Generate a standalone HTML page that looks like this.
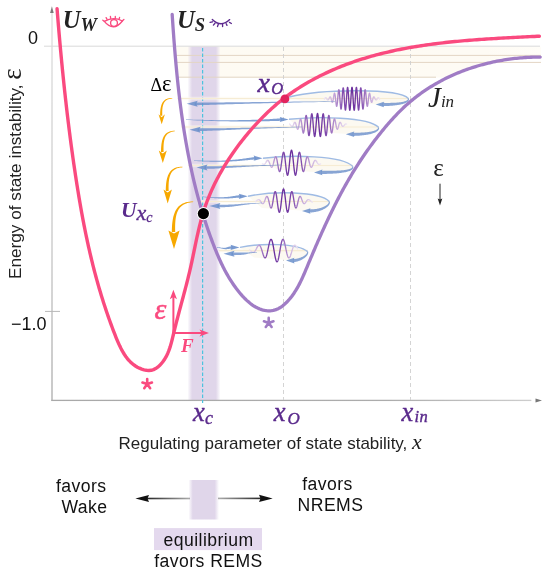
<!DOCTYPE html>
<html><head><meta charset="utf-8"><style>
html,body{margin:0;padding:0;background:#fff;}
body{width:550px;height:577px;position:relative;overflow:hidden;}
svg{position:absolute;left:0;top:0;}
.s{font-family:"Liberation Serif", "DejaVu Serif", serif;}
.a{font-family:"Liberation Sans", Arial, sans-serif;}
</style></head><body>
<svg width="550" height="577" viewBox="0 0 550 577">
<defs>
<linearGradient id="band" x1="0" x2="1" y1="0" y2="0">
<stop offset="0" stop-color="#e0d6ea" stop-opacity="0"/>
<stop offset="0.14" stop-color="#e0d6ea" stop-opacity="1"/>
<stop offset="0.86" stop-color="#e0d6ea" stop-opacity="1"/>
<stop offset="1" stop-color="#e0d6ea" stop-opacity="0"/>
</linearGradient>
<linearGradient id="lg1" gradientUnits="userSpaceOnUse" x1="140" x2="190" y1="0" y2="0">
<stop offset="0" stop-color="#111" stop-opacity="1"/>
<stop offset="1" stop-color="#111" stop-opacity="0.35"/>
</linearGradient>
<linearGradient id="lg2" gradientUnits="userSpaceOnUse" x1="218" x2="268" y1="0" y2="0">
<stop offset="0" stop-color="#111" stop-opacity="0.35"/>
<stop offset="1" stop-color="#111" stop-opacity="1"/>
</linearGradient>
<linearGradient id="cream" gradientUnits="userSpaceOnUse" x1="175" x2="541" y1="0" y2="0">
<stop offset="0" stop-color="#fefbf3"/>
<stop offset="0.85" stop-color="#fefbf4"/>
<stop offset="1" stop-color="#fffdf8"/>
</linearGradient>
<linearGradient id="yax" gradientUnits="userSpaceOnUse" x1="0" y1="12" x2="0" y2="401">
<stop offset="0" stop-color="#dedede"/><stop offset="0.6" stop-color="#c6c6c6"/><stop offset="1" stop-color="#ababab"/>
</linearGradient>
<linearGradient id="xax" gradientUnits="userSpaceOnUse" x1="51" y1="0" x2="531" y2="0">
<stop offset="0" stop-color="#a9a9a9"/><stop offset="0.7" stop-color="#acacac"/><stop offset="1" stop-color="#cdcdcd"/>
</linearGradient>
</defs>
<path d="M174.5,46.7 L541.0,46.7 L541.0,63.1 L540.0,58.1 L538.0,58.1 L536.0,58.1 L534.0,58.1 L532.0,58.2 L530.0,58.3 L528.0,58.4 L526.0,58.5 L524.0,58.6 L522.0,58.8 L520.0,59.0 L518.0,59.1 L516.0,59.3 L514.0,59.6 L512.0,59.8 L510.0,60.1 L508.0,60.3 L506.0,60.7 L504.0,61.0 L502.0,61.3 L500.0,61.7 L498.0,62.0 L496.0,62.4 L494.0,62.8 L492.0,63.3 L490.0,63.7 L488.0,64.2 L486.0,64.7 L484.0,65.2 L482.0,65.7 L480.0,66.3 L478.0,66.9 L476.0,67.4 L474.0,68.1 L472.0,68.7 L470.0,69.4 L468.0,70.1 L466.0,70.8 L464.0,71.5 L462.0,72.3 L460.0,73.1 L458.0,73.9 L456.0,74.7 L454.0,75.6 L452.0,76.5 L450.0,77.4 L448.0,77.5 L446.0,77.5 L444.0,77.5 L442.0,77.5 L440.0,77.5 L438.0,77.5 L436.0,77.5 L434.0,77.5 L432.0,77.5 L430.0,77.5 L428.0,77.5 L426.0,77.5 L424.0,77.5 L422.0,77.5 L420.0,77.5 L418.0,77.5 L416.0,77.5 L414.0,77.5 L412.0,77.5 L410.0,77.5 L408.0,77.5 L406.0,77.5 L404.0,77.5 L402.0,77.5 L177.3,77.5Z" fill="url(#cream)"/>
<rect x="187.5" y="46.5" width="33" height="353.5" fill="url(#band)"/>
<line x1="175.2" y1="55.4" x2="541" y2="55.4" stroke="#e3d5c4" stroke-width="1"/>
<line x1="175.8" y1="62.4" x2="541" y2="62.4" stroke="#e3d5c4" stroke-width="1"/>
<line x1="177.2" y1="77.2" x2="436" y2="77.2" stroke="#e3d5c4" stroke-width="1"/>
<line x1="44" y1="46.2" x2="540" y2="46.2" stroke="#d9d9d9" stroke-width="1"/>
<rect x="51.35" y="12" width="1.3" height="389" fill="url(#yax)"/>
<path d="M51.9,6.3 L53.7,13 L50.1,13Z" fill="#7a7a7a"/>
<rect x="51.35" y="399.75" width="480" height="1.3" fill="url(#xax)"/>
<path d="M542,400.4 L535.5,398.4 L535.5,402.4Z" fill="#777"/>
<line x1="45" y1="311.4" x2="60" y2="311.4" stroke="#b8b8b8" stroke-width="1"/>
<line x1="202.6" y1="48" x2="202.6" y2="403" stroke="#4cc3de" stroke-width="1.2" stroke-dasharray="3.4 2.1"/>
<line x1="283.5" y1="47" x2="283.5" y2="400" stroke="#cfcfcf" stroke-width="0.9" stroke-dasharray="4 3"/>
<line x1="410.5" y1="47" x2="410.5" y2="400" stroke="#cfcfcf" stroke-width="0.9" stroke-dasharray="4 3"/>
<path d="M289,97 C324.8,88.5 398.4,88.5 408.4,98.4 C409.4,102.4 400.4,104.5 382.6,104.5 L303,101.5Z" fill="#fcf9f1"/>
<path d="M289,119.3 C315.9,116.5 368.5,116.5 378.5,127.3 C379.5,131.3 370.5,134.3 352.8,134.3 L303,131.3Z" fill="#fcf9f1"/>
<path d="M263,158.2 C289.9,155 342.7,155 352.7,166.4 C353.7,170.4 344.7,172.4 321.0,172.4 L277,169.4Z" fill="#fcf9f1"/>
<path d="M248,196.3 C272.4,191 319.3,191 329.3,201.5 C330.3,205.5 321.3,211 309.0,211 L262,208Z" fill="#fcf9f1"/>
<path d="M240,247.4 C260.3,243 297.6,243 307.6,251.6 C308.6,255.6 299.6,260.6 293.0,260.6 L254,257.6Z" fill="#fcf9f1"/>
<line x1="177.6" y1="98.5" x2="408.4" y2="98.5" stroke="#f0e0bc" stroke-width="1.2"/>
<line x1="177.6" y1="98.5" x2="408.4" y2="98.5" stroke="#fdf8ec" stroke-width="3.5" opacity="0.5"/>
<line x1="181.5" y1="127" x2="378.5" y2="127" stroke="#f0e0bc" stroke-width="1.2"/>
<line x1="181.5" y1="127" x2="378.5" y2="127" stroke="#fdf8ec" stroke-width="3.5" opacity="0.5"/>
<line x1="188.5" y1="165.5" x2="352.7" y2="165.5" stroke="#f0e0bc" stroke-width="1.2"/>
<line x1="188.5" y1="165.5" x2="352.7" y2="165.5" stroke="#fdf8ec" stroke-width="3.5" opacity="0.5"/>
<line x1="197.2" y1="201.5" x2="329.3" y2="201.5" stroke="#f0e0bc" stroke-width="1.2"/>
<line x1="197.2" y1="201.5" x2="329.3" y2="201.5" stroke="#fdf8ec" stroke-width="3.5" opacity="0.5"/>
<line x1="219.0" y1="250.6" x2="307.6" y2="250.6" stroke="#f0e0bc" stroke-width="1.2"/>
<line x1="219.0" y1="250.6" x2="307.6" y2="250.6" stroke="#fdf8ec" stroke-width="3.5" opacity="0.5"/>
<path d="M289,97 C324.8,88.5 398.4,88.5 408.4,98.4" fill="none" stroke="#9fbbe4" stroke-width="1.4"/>
<linearGradient id="wg0" gradientUnits="userSpaceOnUse" x1="324" x2="380" y1="0" y2="0"><stop offset="0" stop-color="#efe6f4"/><stop offset="0.18" stop-color="#c4a6da"/><stop offset="0.33" stop-color="#8450b0"/><stop offset="0.5" stop-color="#6a2e9c"/><stop offset="0.67" stop-color="#8450b0"/><stop offset="0.82" stop-color="#c4a6da"/><stop offset="1" stop-color="#efe6f4"/></linearGradient>
<path d="M324.00,99.55 L324.11,99.41 L324.22,99.24 L324.34,99.07 L324.45,98.89 L324.56,98.70 L324.67,98.52 L324.78,98.35 L324.90,98.18 L325.01,98.04 L325.12,97.91 L325.23,97.81 L325.34,97.73 L325.46,97.67 L325.57,97.65 L325.68,97.66 L325.79,97.69 L325.90,97.76 L326.02,97.85 L326.13,97.96 L326.24,98.10 L326.35,98.25 L326.46,98.42 L326.58,98.60 L326.69,98.78 L326.80,98.96 L326.91,99.14 L327.02,99.31 L327.14,99.47 L327.25,99.61 L327.36,99.73 L327.47,99.83 L327.58,99.90 L327.70,99.94 L327.81,99.95 L327.92,99.93 L328.03,99.89 L328.14,99.81 L328.26,99.71 L328.37,99.59 L328.48,99.45 L328.59,99.29 L328.70,99.13 L328.82,98.95 L328.93,98.75 L329.04,98.53 L329.15,98.30 L329.26,98.06 L329.38,97.83 L329.49,97.61 L329.60,97.40 L329.71,97.21 L329.82,97.06 L329.94,96.94 L330.05,96.87 L330.16,96.85 L330.27,96.88 L330.38,96.96 L330.50,97.11 L330.61,97.31 L330.72,97.57 L330.83,97.88 L330.94,98.24 L331.06,98.64 L331.17,99.06 L331.28,99.51 L331.39,99.97 L331.50,100.42 L331.62,100.85 L331.73,101.26 L331.84,101.62 L331.95,101.92 L332.06,102.16 L332.18,102.31 L332.29,102.38 L332.40,102.36 L332.51,102.23 L332.62,102.01 L332.74,101.68 L332.85,101.26 L332.96,100.76 L333.07,100.17 L333.18,99.52 L333.30,98.83 L333.41,98.09 L333.52,97.35 L333.63,96.61 L333.74,95.89 L333.86,95.23 L333.97,94.63 L334.08,94.12 L334.19,93.72 L334.30,93.43 L334.42,93.28 L334.53,93.27 L334.64,93.40 L334.75,93.69 L334.86,94.12 L334.98,94.69 L335.09,95.39 L335.20,96.21 L335.31,97.12 L335.42,98.10 L335.54,99.14 L335.65,100.19 L335.76,101.25 L335.87,102.27 L335.98,103.22 L336.10,104.09 L336.21,104.85 L336.32,105.46 L336.43,105.92 L336.54,106.20 L336.66,106.29 L336.77,106.19 L336.88,105.89 L336.99,105.40 L337.10,104.73 L337.22,103.88 L337.33,102.88 L337.44,101.76 L337.55,100.53 L337.66,99.23 L337.78,97.89 L337.89,96.55 L338.00,95.24 L338.11,94.00 L338.22,92.86 L338.34,91.86 L338.45,91.02 L338.56,90.37 L338.67,89.92 L338.78,89.70 L338.90,89.71 L339.01,89.96 L339.12,90.44 L339.23,91.15 L339.34,92.06 L339.46,93.17 L339.57,94.43 L339.68,95.82 L339.79,97.31 L339.90,98.86 L340.02,100.42 L340.13,101.96 L340.24,103.43 L340.35,104.81 L340.46,106.04 L340.58,107.10 L340.69,107.95 L340.80,108.58 L340.91,108.96 L341.02,109.08 L341.14,108.94 L341.25,108.54 L341.36,107.88 L341.47,106.98 L341.58,105.86 L341.70,104.55 L341.81,103.09 L341.92,101.50 L342.03,99.83 L342.14,98.13 L342.26,96.43 L342.37,94.78 L342.48,93.22 L342.59,91.80 L342.70,90.55 L342.82,89.51 L342.93,88.70 L343.04,88.14 L343.15,87.85 L343.26,87.85 L343.38,88.12 L343.49,88.68 L343.60,89.49 L343.71,90.54 L343.82,91.81 L343.94,93.27 L344.05,94.87 L344.16,96.58 L344.27,98.35 L344.38,100.14 L344.50,101.90 L344.61,103.59 L344.72,105.15 L344.83,106.56 L344.94,107.77 L345.06,108.76 L345.17,109.49 L345.28,109.96 L345.39,110.13 L345.50,110.02 L345.62,109.62 L345.73,108.94 L345.84,108.00 L345.95,106.83 L346.06,105.44 L346.18,103.89 L346.29,102.20 L346.40,100.42 L346.51,98.60 L346.62,96.79 L346.74,95.02 L346.85,93.35 L346.96,91.81 L347.07,90.45 L347.18,89.31 L347.30,88.41 L347.41,87.77 L347.52,87.41 L347.63,87.34 L347.74,87.57 L347.86,88.08 L347.97,88.87 L348.08,89.91 L348.19,91.18 L348.30,92.65 L348.42,94.27 L348.53,96.01 L348.64,97.82 L348.75,99.65 L348.86,101.47 L348.98,103.21 L349.09,104.85 L349.20,106.33 L349.31,107.62 L349.42,108.68 L349.54,109.49 L349.65,110.03 L349.76,110.28 L349.87,110.24 L349.98,109.90 L350.10,109.29 L350.21,108.40 L350.32,107.27 L350.43,105.93 L350.54,104.40 L350.66,102.73 L350.77,100.95 L350.88,99.13 L350.99,97.29 L351.10,95.50 L351.22,93.79 L351.33,92.20 L351.44,90.79 L351.55,89.57 L351.66,88.60 L351.78,87.88 L351.89,87.45 L352.00,87.30 L352.11,87.45 L352.22,87.88 L352.34,88.60 L352.45,89.57 L352.56,90.79 L352.67,92.20 L352.78,93.79 L352.90,95.50 L353.01,97.29 L353.12,99.13 L353.23,100.95 L353.34,102.73 L353.46,104.40 L353.57,105.93 L353.68,107.27 L353.79,108.40 L353.90,109.29 L354.02,109.90 L354.13,110.24 L354.24,110.28 L354.35,110.03 L354.46,109.49 L354.58,108.68 L354.69,107.62 L354.80,106.33 L354.91,104.85 L355.02,103.21 L355.14,101.47 L355.25,99.65 L355.36,97.82 L355.47,96.01 L355.58,94.27 L355.70,92.65 L355.81,91.18 L355.92,89.91 L356.03,88.87 L356.14,88.08 L356.26,87.57 L356.37,87.34 L356.48,87.41 L356.59,87.77 L356.70,88.41 L356.82,89.31 L356.93,90.45 L357.04,91.81 L357.15,93.35 L357.26,95.02 L357.38,96.79 L357.49,98.60 L357.60,100.42 L357.71,102.20 L357.82,103.89 L357.94,105.44 L358.05,106.83 L358.16,108.00 L358.27,108.94 L358.38,109.62 L358.50,110.02 L358.61,110.13 L358.72,109.96 L358.83,109.49 L358.94,108.76 L359.06,107.77 L359.17,106.56 L359.28,105.15 L359.39,103.59 L359.50,101.90 L359.62,100.14 L359.73,98.35 L359.84,96.58 L359.95,94.87 L360.06,93.27 L360.18,91.81 L360.29,90.54 L360.40,89.49 L360.51,88.68 L360.62,88.12 L360.74,87.85 L360.85,87.85 L360.96,88.14 L361.07,88.70 L361.18,89.51 L361.30,90.55 L361.41,91.80 L361.52,93.22 L361.63,94.78 L361.74,96.43 L361.86,98.13 L361.97,99.83 L362.08,101.50 L362.19,103.09 L362.30,104.55 L362.42,105.86 L362.53,106.98 L362.64,107.88 L362.75,108.54 L362.86,108.94 L362.98,109.08 L363.09,108.96 L363.20,108.58 L363.31,107.95 L363.42,107.10 L363.54,106.04 L363.65,104.81 L363.76,103.43 L363.87,101.96 L363.98,100.42 L364.10,98.86 L364.21,97.31 L364.32,95.82 L364.43,94.43 L364.54,93.17 L364.66,92.06 L364.77,91.15 L364.88,90.44 L364.99,89.96 L365.10,89.71 L365.22,89.70 L365.33,89.92 L365.44,90.37 L365.55,91.02 L365.66,91.86 L365.78,92.86 L365.89,94.00 L366.00,95.24 L366.11,96.55 L366.22,97.89 L366.34,99.23 L366.45,100.53 L366.56,101.76 L366.67,102.88 L366.78,103.88 L366.90,104.73 L367.01,105.40 L367.12,105.89 L367.23,106.19 L367.34,106.29 L367.46,106.20 L367.57,105.92 L367.68,105.46 L367.79,104.85 L367.90,104.09 L368.02,103.22 L368.13,102.27 L368.24,101.25 L368.35,100.19 L368.46,99.14 L368.58,98.10 L368.69,97.12 L368.80,96.21 L368.91,95.39 L369.02,94.69 L369.14,94.12 L369.25,93.69 L369.36,93.40 L369.47,93.27 L369.58,93.28 L369.70,93.43 L369.81,93.72 L369.92,94.12 L370.03,94.63 L370.14,95.23 L370.26,95.89 L370.37,96.61 L370.48,97.35 L370.59,98.09 L370.70,98.83 L370.82,99.52 L370.93,100.17 L371.04,100.76 L371.15,101.26 L371.26,101.68 L371.38,102.01 L371.49,102.23 L371.60,102.36 L371.71,102.38 L371.82,102.31 L371.94,102.16 L372.05,101.92 L372.16,101.62 L372.27,101.26 L372.38,100.85 L372.50,100.42 L372.61,99.97 L372.72,99.51 L372.83,99.06 L372.94,98.64 L373.06,98.24 L373.17,97.88 L373.28,97.57 L373.39,97.31 L373.50,97.11 L373.62,96.96 L373.73,96.88 L373.84,96.85 L373.95,96.87 L374.06,96.94 L374.18,97.06 L374.29,97.21 L374.40,97.40 L374.51,97.61 L374.62,97.83 L374.74,98.06 L374.85,98.30 L374.96,98.53 L375.07,98.75 L375.18,98.95 L375.30,99.13 L375.41,99.29 L375.52,99.45 L375.63,99.59 L375.74,99.71 L375.86,99.81 L375.97,99.89 L376.08,99.93 L376.19,99.95 L376.30,99.94 L376.42,99.90 L376.53,99.83 L376.64,99.73 L376.75,99.61 L376.86,99.47 L376.98,99.31 L377.09,99.14 L377.20,98.96 L377.31,98.78 L377.42,98.60 L377.54,98.42 L377.65,98.25 L377.76,98.10 L377.87,97.96 L377.98,97.85 L378.10,97.76 L378.21,97.69 L378.32,97.66 L378.43,97.65 L378.54,97.67 L378.66,97.73 L378.77,97.81 L378.88,97.91 L378.99,98.04 L379.10,98.18 L379.22,98.35 L379.33,98.52 L379.44,98.70 L379.55,98.89 L379.66,99.07 L379.78,99.24 L379.89,99.41 L380.00,99.55" fill="none" stroke="url(#wg0)" stroke-width="1.35" stroke-linejoin="round"/>
<path d="M407.91,98.49 L407.93,98.76 L407.92,98.99 L407.88,99.19 L407.81,99.38 L407.72,99.56 L407.60,99.74 L407.45,99.91 L407.27,100.08 L407.06,100.25 L406.81,100.42 L406.53,100.59 L406.21,100.75 L405.85,100.91 L405.45,101.07 L405.02,101.22 L404.55,101.37 L404.04,101.51 L403.50,101.65 L402.92,101.78 L402.30,101.90 L401.65,102.02 L400.96,102.13 L400.24,102.23 L399.48,102.33 L398.68,102.42 L397.85,102.50 L396.98,102.57 L396.08,102.64 L395.15,102.70 L394.18,102.75 L393.17,102.80 L392.13,102.83 L391.06,102.86 L389.95,102.88 L388.81,102.90 L387.63,102.90 L386.43,102.90 L385.18,102.89 L383.91,102.87 L382.60,102.85 L382.60,106.15 L383.93,106.12 L385.22,106.08 L386.49,106.03 L387.71,105.97 L388.91,105.91 L390.07,105.84 L391.20,105.76 L392.30,105.67 L393.36,105.57 L394.39,105.47 L395.38,105.36 L396.34,105.24 L397.27,105.11 L398.16,104.97 L399.02,104.83 L399.84,104.68 L400.63,104.52 L401.39,104.35 L402.11,104.18 L402.80,104.00 L403.45,103.80 L404.07,103.60 L404.65,103.40 L405.20,103.18 L405.72,102.95 L406.20,102.72 L406.64,102.47 L407.06,102.21 L407.43,101.94 L407.78,101.66 L408.08,101.37 L408.35,101.06 L408.58,100.74 L408.76,100.41 L408.90,100.06 L408.99,99.70 L409.04,99.34 L409.03,98.99 L408.98,98.63 L408.89,98.31Z" fill="#6a8fcb" opacity="0.8"/>
<path d="M375.6,104.5 L384.1,101.7 L382.9,104.5 L384.1,107.3Z" fill="#6a8fcb" opacity="0.85"/>
<path d="M335.00,101.25 L329.49,101.29 L324.10,101.33 L318.81,101.38 L313.64,101.42 L308.58,101.47 L303.62,101.52 L298.78,101.56 L294.04,101.61 L289.41,101.66 L284.88,101.71 L280.46,101.76 L276.14,101.81 L271.93,101.86 L267.82,101.90 L263.81,101.95 L259.90,102.00 L256.10,102.04 L252.39,102.09 L248.79,102.13 L245.28,102.17 L241.87,102.21 L238.55,102.25 L235.34,102.28 L232.22,102.32 L229.19,102.35 L226.26,102.37 L223.42,102.40 L220.67,102.42 L218.02,102.44 L215.46,102.46 L212.98,102.47 L210.60,102.48 L208.31,102.48 L206.11,102.49 L203.99,102.48 L201.96,102.48 L200.02,102.46 L198.16,102.45 L196.39,102.43 L194.70,102.40 L194.70,105.20 L196.40,105.17 L198.17,105.13 L200.04,105.09 L201.98,105.05 L204.02,105.00 L206.14,104.94 L208.34,104.88 L210.64,104.82 L213.02,104.75 L215.49,104.68 L218.06,104.61 L220.71,104.53 L223.46,104.45 L226.30,104.37 L229.23,104.28 L232.25,104.20 L235.37,104.10 L238.59,104.01 L241.90,103.92 L245.31,103.82 L248.82,103.72 L252.42,103.62 L256.13,103.52 L259.93,103.42 L263.84,103.31 L267.84,103.21 L271.95,103.10 L276.16,103.00 L280.48,102.89 L284.90,102.78 L289.42,102.68 L294.06,102.57 L298.79,102.47 L303.64,102.36 L308.59,102.26 L313.65,102.15 L318.82,102.05 L324.11,101.95 L329.50,101.85 L335.00,101.75Z" fill="#6a8fcb" opacity="0.8"/>
<path d="M186.7,103.8 L197.7,100.8 L196.2,103.8 L197.7,106.8Z" fill="#6a8fcb" opacity="0.85"/>
<path d="M289,119.3 C315.9,116.5 368.5,116.5 378.5,127.3" fill="none" stroke="#9fbbe4" stroke-width="1.4"/>
<linearGradient id="wg1" gradientUnits="userSpaceOnUse" x1="289" x2="347" y1="0" y2="0"><stop offset="0" stop-color="#efe6f4"/><stop offset="0.18" stop-color="#c4a6da"/><stop offset="0.33" stop-color="#8450b0"/><stop offset="0.5" stop-color="#6a2e9c"/><stop offset="0.67" stop-color="#8450b0"/><stop offset="0.82" stop-color="#c4a6da"/><stop offset="1" stop-color="#efe6f4"/></linearGradient>
<path d="M289.00,123.85 L289.12,123.86 L289.23,123.89 L289.35,123.93 L289.46,124.00 L289.58,124.08 L289.70,124.17 L289.81,124.28 L289.93,124.40 L290.04,124.53 L290.16,124.67 L290.28,124.81 L290.39,124.96 L290.51,125.11 L290.62,125.25 L290.74,125.39 L290.86,125.53 L290.97,125.65 L291.09,125.77 L291.20,125.90 L291.32,126.02 L291.44,126.13 L291.55,126.23 L291.67,126.31 L291.78,126.37 L291.90,126.41 L292.02,126.43 L292.13,126.42 L292.25,126.39 L292.36,126.33 L292.48,126.25 L292.60,126.14 L292.71,126.00 L292.83,125.83 L292.94,125.64 L293.06,125.44 L293.18,125.21 L293.29,124.96 L293.41,124.71 L293.52,124.44 L293.64,124.18 L293.76,123.91 L293.87,123.65 L293.99,123.40 L294.10,123.16 L294.22,122.95 L294.34,122.76 L294.45,122.60 L294.57,122.48 L294.68,122.39 L294.80,122.35 L294.92,122.35 L295.03,122.40 L295.15,122.49 L295.26,122.63 L295.38,122.82 L295.50,123.06 L295.61,123.34 L295.73,123.66 L295.84,124.02 L295.96,124.40 L296.08,124.82 L296.19,125.25 L296.31,125.70 L296.42,126.15 L296.54,126.61 L296.66,127.05 L296.77,127.47 L296.89,127.87 L297.00,128.23 L297.12,128.55 L297.24,128.82 L297.35,129.04 L297.47,129.19 L297.58,129.28 L297.70,129.30 L297.82,129.24 L297.93,129.11 L298.05,128.91 L298.16,128.63 L298.28,128.28 L298.40,127.87 L298.51,127.39 L298.63,126.85 L298.74,126.27 L298.86,125.65 L298.98,124.99 L299.09,124.32 L299.21,123.64 L299.32,122.96 L299.44,122.30 L299.56,121.66 L299.67,121.06 L299.79,120.52 L299.90,120.03 L300.02,119.61 L300.14,119.27 L300.25,119.03 L300.37,118.87 L300.48,118.81 L300.60,118.86 L300.72,119.01 L300.83,119.27 L300.95,119.63 L301.06,120.09 L301.18,120.64 L301.30,121.28 L301.41,122.00 L301.53,122.78 L301.64,123.62 L301.76,124.49 L301.88,125.40 L301.99,126.32 L302.11,127.24 L302.22,128.14 L302.34,129.00 L302.46,129.81 L302.57,130.57 L302.69,131.24 L302.80,131.82 L302.92,132.30 L303.04,132.66 L303.15,132.90 L303.27,133.02 L303.38,133.00 L303.50,132.85 L303.62,132.57 L303.73,132.15 L303.85,131.61 L303.96,130.95 L304.08,130.18 L304.20,129.32 L304.31,128.36 L304.43,127.34 L304.54,126.26 L304.66,125.15 L304.78,124.01 L304.89,122.88 L305.01,121.77 L305.12,120.69 L305.24,119.67 L305.36,118.73 L305.47,117.88 L305.59,117.13 L305.70,116.51 L305.82,116.02 L305.94,115.68 L306.05,115.48 L306.17,115.44 L306.28,115.56 L306.40,115.83 L306.52,116.26 L306.63,116.84 L306.75,117.56 L306.86,118.41 L306.98,119.38 L307.10,120.45 L307.21,121.61 L307.33,122.83 L307.44,124.10 L307.56,125.39 L307.68,126.69 L307.79,127.98 L307.91,129.22 L308.02,130.40 L308.14,131.51 L308.26,132.52 L308.37,133.41 L308.49,134.16 L308.60,134.77 L308.72,135.23 L308.84,135.52 L308.95,135.64 L309.07,135.58 L309.18,135.35 L309.30,134.95 L309.42,134.38 L309.53,133.65 L309.65,132.78 L309.76,131.77 L309.88,130.65 L310.00,129.43 L310.11,128.13 L310.23,126.77 L310.34,125.38 L310.46,123.97 L310.58,122.58 L310.69,121.22 L310.81,119.91 L310.92,118.69 L311.04,117.56 L311.16,116.55 L311.27,115.68 L311.39,114.96 L311.50,114.40 L311.62,114.01 L311.74,113.80 L311.85,113.77 L311.97,113.93 L312.08,114.27 L312.20,114.79 L312.32,115.48 L312.43,116.32 L312.55,117.31 L312.66,118.43 L312.78,119.65 L312.90,120.97 L313.01,122.35 L313.13,123.79 L313.24,125.24 L313.36,126.69 L313.48,128.12 L313.59,129.49 L313.71,130.80 L313.82,132.01 L313.94,133.11 L314.06,134.08 L314.17,134.89 L314.29,135.55 L314.40,136.04 L314.52,136.34 L314.64,136.46 L314.75,136.40 L314.87,136.14 L314.98,135.71 L315.10,135.10 L315.22,134.32 L315.33,133.39 L315.45,132.32 L315.56,131.14 L315.68,129.85 L315.80,128.48 L315.91,127.05 L316.03,125.60 L316.14,124.13 L316.26,122.67 L316.38,121.25 L316.49,119.90 L316.61,118.63 L316.72,117.46 L316.84,116.41 L316.96,115.51 L317.07,114.76 L317.19,114.17 L317.30,113.77 L317.42,113.54 L317.54,113.51 L317.65,113.66 L317.77,114.00 L317.88,114.52 L318.00,115.20 L318.12,116.05 L318.23,117.05 L318.35,118.17 L318.46,119.41 L318.58,120.73 L318.70,122.13 L318.81,123.57 L318.93,125.04 L319.04,126.50 L319.16,127.94 L319.28,129.34 L319.39,130.66 L319.51,131.89 L319.62,133.00 L319.74,133.98 L319.86,134.82 L319.97,135.50 L320.09,136.00 L320.20,136.32 L320.32,136.46 L320.44,136.41 L320.55,136.18 L320.67,135.76 L320.78,135.16 L320.90,134.40 L321.02,133.49 L321.13,132.44 L321.25,131.27 L321.36,130.00 L321.48,128.65 L321.60,127.24 L321.71,125.79 L321.83,124.34 L321.94,122.89 L322.06,121.49 L322.18,120.14 L322.29,118.88 L322.41,117.72 L322.52,116.68 L322.64,115.78 L322.76,115.03 L322.87,114.45 L322.99,114.04 L323.10,113.81 L323.22,113.77 L323.34,113.91 L323.45,114.23 L323.57,114.72 L323.68,115.39 L323.80,116.20 L323.92,117.16 L324.03,118.25 L324.15,119.44 L324.26,120.71 L324.38,122.05 L324.50,123.44 L324.61,124.84 L324.73,126.24 L324.84,127.62 L324.96,128.94 L325.08,130.19 L325.19,131.36 L325.31,132.41 L325.42,133.33 L325.54,134.12 L325.66,134.75 L325.77,135.22 L325.89,135.51 L326.00,135.64 L326.12,135.58 L326.24,135.36 L326.35,134.97 L326.47,134.41 L326.58,133.71 L326.70,132.87 L326.82,131.90 L326.93,130.83 L327.05,129.68 L327.16,128.45 L327.28,127.18 L327.40,125.89 L327.51,124.59 L327.63,123.30 L327.74,122.06 L327.86,120.88 L327.98,119.77 L328.09,118.77 L328.21,117.87 L328.32,117.10 L328.44,116.46 L328.56,115.98 L328.67,115.64 L328.79,115.47 L328.90,115.45 L329.02,115.58 L329.14,115.87 L329.25,116.31 L329.37,116.88 L329.48,117.58 L329.60,118.39 L329.72,119.30 L329.83,120.30 L329.95,121.35 L330.06,122.45 L330.18,123.58 L330.30,124.72 L330.41,125.84 L330.53,126.94 L330.64,127.98 L330.76,128.96 L330.88,129.87 L330.99,130.67 L331.11,131.38 L331.22,131.96 L331.34,132.43 L331.46,132.76 L331.57,132.96 L331.69,133.03 L331.80,132.96 L331.92,132.77 L332.04,132.45 L332.15,132.01 L332.27,131.47 L332.38,130.83 L332.50,130.11 L332.62,129.32 L332.73,128.47 L332.85,127.58 L332.96,126.67 L333.08,125.75 L333.20,124.84 L333.31,123.94 L333.43,123.09 L333.54,122.28 L333.66,121.54 L333.78,120.87 L333.89,120.29 L334.01,119.79 L334.12,119.40 L334.24,119.10 L334.36,118.91 L334.47,118.82 L334.59,118.84 L334.70,118.95 L334.82,119.17 L334.94,119.47 L335.05,119.86 L335.17,120.32 L335.28,120.85 L335.40,121.43 L335.52,122.05 L335.63,122.71 L335.75,123.38 L335.86,124.06 L335.98,124.74 L336.10,125.40 L336.21,126.04 L336.33,126.64 L336.44,127.19 L336.56,127.69 L336.68,128.13 L336.79,128.51 L336.91,128.81 L337.02,129.05 L337.14,129.20 L337.26,129.29 L337.37,129.30 L337.49,129.23 L337.60,129.10 L337.72,128.91 L337.84,128.66 L337.95,128.36 L338.07,128.01 L338.18,127.63 L338.30,127.21 L338.42,126.78 L338.53,126.33 L338.65,125.87 L338.76,125.42 L338.88,124.98 L339.00,124.56 L339.11,124.16 L339.23,123.79 L339.34,123.46 L339.46,123.16 L339.58,122.91 L339.69,122.70 L339.81,122.54 L339.92,122.43 L340.04,122.36 L340.16,122.35 L340.27,122.37 L340.39,122.44 L340.50,122.55 L340.62,122.70 L340.74,122.87 L340.85,123.08 L340.97,123.31 L341.08,123.55 L341.20,123.81 L341.32,124.07 L341.43,124.34 L341.55,124.61 L341.66,124.87 L341.78,125.12 L341.90,125.35 L342.01,125.57 L342.13,125.76 L342.24,125.94 L342.36,126.09 L342.48,126.21 L342.59,126.30 L342.71,126.37 L342.82,126.41 L342.94,126.43 L343.06,126.42 L343.17,126.39 L343.29,126.33 L343.40,126.26 L343.52,126.17 L343.64,126.06 L343.75,125.94 L343.87,125.82 L343.98,125.70 L344.10,125.57 L344.22,125.44 L344.33,125.30 L344.45,125.16 L344.56,125.01 L344.68,124.87 L344.80,124.72 L344.91,124.58 L345.03,124.45 L345.14,124.33 L345.26,124.21 L345.38,124.11 L345.49,124.03 L345.61,123.96 L345.72,123.90 L345.84,123.87 L345.96,123.85 L346.07,123.85 L346.19,123.87 L346.30,123.91 L346.42,123.97 L346.54,124.04 L346.65,124.13 L346.77,124.24 L346.88,124.35 L347.00,124.48" fill="none" stroke="url(#wg1)" stroke-width="1.35" stroke-linejoin="round"/>
<path d="M378.01,127.39 L378.03,127.66 L378.02,127.89 L377.98,128.11 L377.91,128.31 L377.81,128.51 L377.69,128.71 L377.53,128.90 L377.35,129.10 L377.13,129.29 L376.88,129.48 L376.59,129.68 L376.27,129.87 L375.91,130.06 L375.51,130.25 L375.08,130.43 L374.61,130.61 L374.10,130.78 L373.56,130.95 L372.98,131.11 L372.36,131.27 L371.71,131.42 L371.03,131.56 L370.31,131.69 L369.55,131.82 L368.76,131.94 L367.93,132.05 L367.07,132.16 L366.18,132.25 L365.25,132.34 L364.28,132.41 L363.29,132.48 L362.25,132.54 L361.19,132.59 L360.09,132.63 L358.96,132.66 L357.79,132.68 L356.59,132.69 L355.36,132.69 L354.10,132.67 L352.79,132.65 L352.81,135.95 L354.13,135.92 L355.42,135.87 L356.68,135.81 L357.90,135.75 L359.10,135.67 L360.26,135.58 L361.38,135.48 L362.48,135.37 L363.54,135.25 L364.56,135.12 L365.56,134.99 L366.52,134.84 L367.44,134.68 L368.33,134.51 L369.19,134.34 L370.01,134.16 L370.80,133.96 L371.55,133.76 L372.27,133.55 L372.96,133.33 L373.61,133.11 L374.23,132.87 L374.81,132.63 L375.36,132.38 L375.87,132.12 L376.35,131.85 L376.79,131.57 L377.20,131.28 L377.57,130.98 L377.91,130.68 L378.21,130.36 L378.47,130.03 L378.69,129.69 L378.87,129.34 L379.01,128.99 L379.10,128.62 L379.14,128.26 L379.13,127.89 L379.08,127.53 L378.99,127.21Z" fill="#6a8fcb" opacity="0.8"/>
<path d="M345.8,134.3 L354.3,131.5 L353.1,134.3 L354.3,137.1Z" fill="#6a8fcb" opacity="0.85"/>
<path d="M302.00,126.75 L297.84,126.80 L293.79,126.86 L289.84,126.92 L286.01,126.97 L282.27,127.03 L278.64,127.09 L275.10,127.15 L271.66,127.22 L268.31,127.28 L265.06,127.34 L261.89,127.40 L258.81,127.46 L255.81,127.53 L252.89,127.59 L250.05,127.65 L247.29,127.71 L244.60,127.77 L241.98,127.82 L239.43,127.88 L236.95,127.93 L234.53,127.98 L232.17,128.03 L229.88,128.08 L227.64,128.12 L225.45,128.16 L223.32,128.20 L221.24,128.24 L219.20,128.27 L217.21,128.29 L215.26,128.32 L213.35,128.34 L211.48,128.35 L209.65,128.36 L207.85,128.37 L206.08,128.37 L204.34,128.37 L202.62,128.36 L200.93,128.35 L199.25,128.33 L197.60,128.30 L197.60,131.10 L199.26,131.07 L200.94,131.03 L202.65,130.99 L204.37,130.94 L206.12,130.88 L207.89,130.83 L209.70,130.76 L211.54,130.69 L213.41,130.62 L215.32,130.54 L217.27,130.46 L219.26,130.38 L221.30,130.29 L223.38,130.19 L225.51,130.10 L227.70,130.00 L229.94,129.90 L232.23,129.79 L234.59,129.69 L237.00,129.58 L239.48,129.47 L242.03,129.36 L244.64,129.24 L247.33,129.13 L250.09,129.01 L252.93,128.89 L255.84,128.77 L258.84,128.65 L261.92,128.53 L265.09,128.41 L268.34,128.29 L271.69,128.18 L275.12,128.06 L278.66,127.94 L282.29,127.82 L286.02,127.70 L289.86,127.59 L293.80,127.47 L297.85,127.36 L302.00,127.25Z" fill="#6a8fcb" opacity="0.8"/>
<path d="M189.6,129.7 L200.6,126.7 L199.1,129.7 L200.6,132.7Z" fill="#6a8fcb" opacity="0.85"/>
<path d="M185.99,119.85 L189.81,120.05 L193.58,120.24 L197.28,120.42 L200.93,120.57 L204.52,120.72 L208.04,120.84 L211.50,120.96 L214.89,121.06 L218.22,121.15 L221.48,121.22 L224.68,121.29 L227.80,121.34 L230.85,121.38 L233.83,121.42 L236.74,121.44 L239.57,121.46 L242.32,121.47 L245.00,121.47 L247.60,121.46 L250.12,121.45 L252.56,121.43 L254.91,121.41 L257.18,121.38 L259.37,121.35 L261.47,121.32 L263.48,121.28 L265.41,121.24 L267.24,121.20 L268.99,121.16 L270.64,121.11 L272.19,121.07 L273.66,121.03 L275.02,120.99 L276.29,120.95 L277.46,120.92 L278.53,120.88 L279.50,120.86 L280.36,120.83 L281.12,120.81 L281.78,120.80 L281.62,118.20 L280.97,118.27 L280.21,118.34 L279.36,118.42 L278.40,118.50 L277.33,118.58 L276.17,118.67 L274.91,118.76 L273.55,118.85 L272.10,118.95 L270.55,119.04 L268.91,119.14 L267.17,119.23 L265.34,119.32 L263.42,119.42 L261.42,119.50 L259.32,119.59 L257.14,119.68 L254.88,119.75 L252.53,119.83 L250.09,119.90 L247.58,119.96 L244.99,120.02 L242.31,120.07 L239.56,120.12 L236.74,120.16 L233.83,120.18 L230.86,120.20 L227.81,120.21 L224.69,120.21 L221.50,120.20 L218.24,120.17 L214.91,120.14 L211.52,120.09 L208.06,120.03 L204.54,119.95 L200.95,119.86 L197.31,119.76 L193.60,119.64 L189.84,119.50 L186.01,119.35Z" fill="#6a8fcb" opacity="0.85"/>
<path d="M288.7,119.5 L279.7,122.1 L280.9,119.5 L279.7,116.9Z" fill="#6a8fcb" opacity="0.9"/>
<path d="M263,158.2 C289.9,155 342.7,155 352.7,166.4" fill="none" stroke="#9fbbe4" stroke-width="1.4"/>
<linearGradient id="wg2" gradientUnits="userSpaceOnUse" x1="262" x2="321" y1="0" y2="0"><stop offset="0" stop-color="#efe6f4"/><stop offset="0.18" stop-color="#c4a6da"/><stop offset="0.33" stop-color="#8450b0"/><stop offset="0.5" stop-color="#6a2e9c"/><stop offset="0.67" stop-color="#8450b0"/><stop offset="0.82" stop-color="#c4a6da"/><stop offset="1" stop-color="#efe6f4"/></linearGradient>
<path d="M262.00,163.49 L262.12,163.60 L262.24,163.70 L262.35,163.80 L262.47,163.88 L262.59,163.97 L262.71,164.05 L262.83,164.13 L262.94,164.21 L263.06,164.28 L263.18,164.34 L263.30,164.40 L263.42,164.44 L263.53,164.47 L263.65,164.48 L263.77,164.49 L263.89,164.48 L264.01,164.45 L264.12,164.42 L264.24,164.36 L264.36,164.30 L264.48,164.22 L264.60,164.12 L264.71,164.02 L264.83,163.89 L264.95,163.76 L265.07,163.62 L265.19,163.46 L265.30,163.29 L265.42,163.12 L265.54,162.94 L265.66,162.75 L265.78,162.56 L265.89,162.37 L266.01,162.17 L266.13,161.98 L266.25,161.79 L266.37,161.60 L266.48,161.42 L266.60,161.25 L266.72,161.09 L266.84,160.94 L266.96,160.80 L267.07,160.68 L267.19,160.58 L267.31,160.50 L267.43,160.43 L267.55,160.39 L267.66,160.37 L267.78,160.37 L267.90,160.40 L268.02,160.45 L268.14,160.52 L268.25,160.62 L268.37,160.75 L268.49,160.90 L268.61,161.07 L268.73,161.26 L268.84,161.48 L268.96,161.71 L269.08,161.97 L269.20,162.24 L269.32,162.53 L269.43,162.83 L269.55,163.14 L269.67,163.46 L269.79,163.78 L269.91,164.10 L270.02,164.43 L270.14,164.75 L270.26,165.06 L270.38,165.37 L270.50,165.66 L270.61,165.93 L270.73,166.19 L270.85,166.43 L270.97,166.64 L271.09,166.82 L271.20,166.98 L271.32,167.10 L271.44,167.19 L271.56,167.25 L271.68,167.27 L271.79,167.25 L271.91,167.19 L272.03,167.10 L272.15,166.96 L272.27,166.79 L272.38,166.57 L272.50,166.33 L272.62,166.04 L272.74,165.72 L272.86,165.37 L272.97,164.99 L273.09,164.58 L273.21,164.14 L273.33,163.69 L273.45,163.22 L273.56,162.74 L273.68,162.24 L273.80,161.75 L273.92,161.25 L274.04,160.75 L274.15,160.27 L274.27,159.79 L274.39,159.34 L274.51,158.91 L274.63,158.50 L274.74,158.13 L274.86,157.79 L274.98,157.48 L275.10,157.23 L275.22,157.01 L275.33,156.85 L275.45,156.73 L275.57,156.67 L275.69,156.67 L275.81,156.72 L275.92,156.82 L276.04,156.99 L276.16,157.21 L276.28,157.48 L276.40,157.81 L276.51,158.20 L276.63,158.63 L276.75,159.11 L276.87,159.63 L276.99,160.19 L277.10,160.79 L277.22,161.42 L277.34,162.08 L277.46,162.76 L277.58,163.45 L277.69,164.15 L277.81,164.85 L277.93,165.55 L278.05,166.24 L278.17,166.91 L278.28,167.56 L278.40,168.18 L278.52,168.76 L278.64,169.31 L278.76,169.81 L278.87,170.26 L278.99,170.65 L279.11,170.98 L279.23,171.24 L279.35,171.44 L279.46,171.57 L279.58,171.62 L279.70,171.60 L279.82,171.50 L279.94,171.32 L280.05,171.07 L280.17,170.75 L280.29,170.35 L280.41,169.88 L280.53,169.35 L280.64,168.75 L280.76,168.09 L280.88,167.38 L281.00,166.62 L281.12,165.82 L281.23,164.98 L281.35,164.12 L281.47,163.23 L281.59,162.33 L281.71,161.42 L281.82,160.51 L281.94,159.62 L282.06,158.74 L282.18,157.89 L282.30,157.08 L282.41,156.30 L282.53,155.58 L282.65,154.91 L282.77,154.30 L282.89,153.77 L283.00,153.30 L283.12,152.92 L283.24,152.62 L283.36,152.41 L283.48,152.29 L283.59,152.26 L283.71,152.33 L283.83,152.49 L283.95,152.74 L284.07,153.08 L284.18,153.52 L284.30,154.04 L284.42,154.64 L284.54,155.33 L284.66,156.08 L284.77,156.90 L284.89,157.79 L285.01,158.72 L285.13,159.71 L285.25,160.72 L285.36,161.77 L285.48,162.84 L285.60,163.91 L285.72,164.99 L285.84,166.05 L285.95,167.10 L286.07,168.12 L286.19,169.11 L286.31,170.04 L286.43,170.92 L286.54,171.74 L286.66,172.49 L286.78,173.16 L286.90,173.75 L287.02,174.24 L287.13,174.64 L287.25,174.95 L287.37,175.15 L287.49,175.24 L287.61,175.23 L287.72,175.11 L287.84,174.89 L287.96,174.57 L288.08,174.14 L288.20,173.61 L288.31,172.99 L288.43,172.28 L288.55,171.48 L288.67,170.61 L288.79,169.67 L288.90,168.67 L289.02,167.61 L289.14,166.52 L289.26,165.38 L289.38,164.23 L289.49,163.06 L289.61,161.89 L289.73,160.72 L289.85,159.57 L289.97,158.45 L290.08,157.36 L290.20,156.33 L290.32,155.34 L290.44,154.43 L290.56,153.58 L290.67,152.82 L290.79,152.14 L290.91,151.56 L291.03,151.08 L291.15,150.70 L291.26,150.42 L291.38,150.26 L291.50,150.20 L291.62,150.26 L291.74,150.42 L291.85,150.70 L291.97,151.08 L292.09,151.56 L292.21,152.14 L292.33,152.82 L292.44,153.58 L292.56,154.43 L292.68,155.34 L292.80,156.33 L292.92,157.36 L293.03,158.45 L293.15,159.57 L293.27,160.72 L293.39,161.89 L293.51,163.06 L293.62,164.23 L293.74,165.38 L293.86,166.52 L293.98,167.61 L294.10,168.67 L294.21,169.67 L294.33,170.61 L294.45,171.48 L294.57,172.28 L294.69,172.99 L294.80,173.61 L294.92,174.14 L295.04,174.57 L295.16,174.89 L295.28,175.11 L295.39,175.23 L295.51,175.24 L295.63,175.15 L295.75,174.95 L295.87,174.64 L295.98,174.24 L296.10,173.75 L296.22,173.16 L296.34,172.49 L296.46,171.74 L296.57,170.92 L296.69,170.04 L296.81,169.11 L296.93,168.12 L297.05,167.10 L297.16,166.05 L297.28,164.99 L297.40,163.91 L297.52,162.84 L297.64,161.77 L297.75,160.72 L297.87,159.71 L297.99,158.72 L298.11,157.79 L298.23,156.90 L298.34,156.08 L298.46,155.33 L298.58,154.64 L298.70,154.04 L298.82,153.52 L298.93,153.08 L299.05,152.74 L299.17,152.49 L299.29,152.33 L299.41,152.26 L299.52,152.29 L299.64,152.41 L299.76,152.62 L299.88,152.92 L300.00,153.30 L300.11,153.77 L300.23,154.30 L300.35,154.91 L300.47,155.58 L300.59,156.30 L300.70,157.08 L300.82,157.89 L300.94,158.74 L301.06,159.62 L301.18,160.51 L301.29,161.42 L301.41,162.33 L301.53,163.23 L301.65,164.12 L301.77,164.98 L301.88,165.82 L302.00,166.62 L302.12,167.38 L302.24,168.09 L302.36,168.75 L302.47,169.35 L302.59,169.88 L302.71,170.35 L302.83,170.75 L302.95,171.07 L303.06,171.32 L303.18,171.50 L303.30,171.60 L303.42,171.62 L303.54,171.57 L303.65,171.44 L303.77,171.24 L303.89,170.98 L304.01,170.65 L304.13,170.26 L304.24,169.81 L304.36,169.31 L304.48,168.76 L304.60,168.18 L304.72,167.56 L304.83,166.91 L304.95,166.24 L305.07,165.55 L305.19,164.85 L305.31,164.15 L305.42,163.45 L305.54,162.76 L305.66,162.08 L305.78,161.42 L305.90,160.79 L306.01,160.19 L306.13,159.63 L306.25,159.11 L306.37,158.63 L306.49,158.20 L306.60,157.81 L306.72,157.48 L306.84,157.21 L306.96,156.99 L307.08,156.82 L307.19,156.72 L307.31,156.67 L307.43,156.67 L307.55,156.73 L307.67,156.85 L307.78,157.01 L307.90,157.23 L308.02,157.48 L308.14,157.79 L308.26,158.13 L308.37,158.50 L308.49,158.91 L308.61,159.34 L308.73,159.79 L308.85,160.27 L308.96,160.75 L309.08,161.25 L309.20,161.75 L309.32,162.24 L309.44,162.74 L309.55,163.22 L309.67,163.69 L309.79,164.14 L309.91,164.58 L310.03,164.99 L310.14,165.37 L310.26,165.72 L310.38,166.04 L310.50,166.33 L310.62,166.57 L310.73,166.79 L310.85,166.96 L310.97,167.10 L311.09,167.19 L311.21,167.25 L311.32,167.27 L311.44,167.25 L311.56,167.19 L311.68,167.10 L311.80,166.98 L311.91,166.82 L312.03,166.64 L312.15,166.43 L312.27,166.19 L312.39,165.93 L312.50,165.66 L312.62,165.37 L312.74,165.06 L312.86,164.75 L312.98,164.43 L313.09,164.10 L313.21,163.78 L313.33,163.46 L313.45,163.14 L313.57,162.83 L313.68,162.53 L313.80,162.24 L313.92,161.97 L314.04,161.71 L314.16,161.48 L314.27,161.26 L314.39,161.07 L314.51,160.90 L314.63,160.75 L314.75,160.62 L314.86,160.52 L314.98,160.45 L315.10,160.40 L315.22,160.37 L315.34,160.37 L315.45,160.39 L315.57,160.43 L315.69,160.50 L315.81,160.58 L315.93,160.68 L316.04,160.80 L316.16,160.94 L316.28,161.09 L316.40,161.25 L316.52,161.42 L316.63,161.60 L316.75,161.79 L316.87,161.98 L316.99,162.17 L317.11,162.37 L317.22,162.56 L317.34,162.75 L317.46,162.94 L317.58,163.12 L317.70,163.29 L317.81,163.46 L317.93,163.62 L318.05,163.76 L318.17,163.89 L318.29,164.02 L318.40,164.12 L318.52,164.22 L318.64,164.30 L318.76,164.36 L318.88,164.42 L318.99,164.45 L319.11,164.48 L319.23,164.49 L319.35,164.48 L319.47,164.47 L319.58,164.44 L319.70,164.40 L319.82,164.34 L319.94,164.28 L320.06,164.21 L320.17,164.13 L320.29,164.05 L320.41,163.97 L320.53,163.88 L320.65,163.80 L320.76,163.70 L320.88,163.60 L321.00,163.49" fill="none" stroke="url(#wg2)" stroke-width="1.35" stroke-linejoin="round"/>
<path d="M352.21,166.49 L352.23,166.76 L352.22,166.98 L352.17,167.18 L352.10,167.37 L352.01,167.54 L351.89,167.71 L351.73,167.88 L351.55,168.04 L351.32,168.21 L351.05,168.38 L350.74,168.55 L350.39,168.71 L349.99,168.87 L349.54,169.03 L349.05,169.18 L348.52,169.32 L347.93,169.46 L347.30,169.60 L346.63,169.72 L345.91,169.85 L345.13,169.96 L344.32,170.07 L343.45,170.17 L342.54,170.26 L341.57,170.35 L340.56,170.42 L339.50,170.50 L338.39,170.56 L337.22,170.62 L336.01,170.66 L334.75,170.71 L333.43,170.74 L332.06,170.77 L330.64,170.79 L329.17,170.80 L327.64,170.81 L326.06,170.80 L324.43,170.79 L322.74,170.78 L321.00,170.75 L321.00,174.05 L322.76,174.02 L324.46,173.98 L326.11,173.93 L327.70,173.87 L329.25,173.81 L330.73,173.74 L332.17,173.66 L333.56,173.58 L334.89,173.49 L336.17,173.39 L337.41,173.28 L338.59,173.16 L339.72,173.04 L340.81,172.91 L341.85,172.77 L342.83,172.62 L343.77,172.47 L344.67,172.30 L345.52,172.13 L346.32,171.95 L347.08,171.77 L347.79,171.57 L348.46,171.37 L349.08,171.16 L349.67,170.94 L350.21,170.70 L350.70,170.46 L351.16,170.21 L351.58,169.95 L351.95,169.67 L352.29,169.38 L352.58,169.08 L352.83,168.75 L353.03,168.42 L353.18,168.07 L353.29,167.71 L353.33,167.35 L353.33,166.99 L353.28,166.63 L353.19,166.31Z" fill="#6a8fcb" opacity="0.8"/>
<path d="M314.0,172.4 L322.5,169.6 L321.3,172.4 L322.5,175.2Z" fill="#6a8fcb" opacity="0.85"/>
<path d="M281.99,164.75 L278.84,164.80 L275.80,164.85 L272.86,164.90 L270.03,164.95 L267.29,165.00 L264.64,165.05 L262.09,165.11 L259.62,165.16 L257.23,165.22 L254.93,165.28 L252.70,165.33 L250.54,165.39 L248.45,165.44 L246.43,165.50 L244.46,165.55 L242.56,165.60 L240.70,165.65 L238.90,165.70 L237.15,165.75 L235.43,165.80 L233.76,165.85 L232.12,165.89 L230.51,165.93 L228.93,165.97 L227.38,166.00 L225.84,166.04 L224.33,166.07 L222.82,166.09 L221.33,166.12 L219.84,166.14 L218.36,166.15 L216.87,166.17 L215.38,166.17 L213.88,166.18 L212.37,166.18 L210.84,166.17 L209.30,166.16 L207.73,166.15 L206.13,166.13 L204.50,166.10 L204.50,168.90 L206.14,168.87 L207.74,168.83 L209.32,168.79 L210.88,168.74 L212.41,168.69 L213.93,168.63 L215.44,168.57 L216.93,168.51 L218.43,168.44 L219.91,168.36 L221.40,168.28 L222.90,168.20 L224.41,168.12 L225.92,168.03 L227.46,167.94 L229.01,167.85 L230.59,167.75 L232.20,167.65 L233.83,167.55 L235.51,167.45 L237.22,167.34 L238.97,167.24 L240.77,167.13 L242.62,167.02 L244.52,166.91 L246.48,166.80 L248.50,166.69 L250.59,166.58 L252.74,166.46 L254.97,166.35 L257.27,166.24 L259.65,166.12 L262.12,166.01 L264.67,165.90 L267.31,165.79 L270.05,165.68 L272.88,165.57 L275.82,165.46 L278.86,165.35 L282.01,165.25Z" fill="#6a8fcb" opacity="0.8"/>
<path d="M196.5,167.5 L207.5,164.5 L206.0,167.5 L207.5,170.5Z" fill="#6a8fcb" opacity="0.85"/>
<path d="M193.98,160.75 L196.53,160.95 L199.02,161.13 L201.45,161.28 L203.83,161.41 L206.15,161.52 L208.43,161.61 L210.64,161.68 L212.81,161.73 L214.92,161.76 L216.97,161.78 L218.98,161.78 L220.93,161.77 L222.84,161.74 L224.69,161.70 L226.48,161.65 L228.23,161.58 L229.93,161.51 L231.58,161.43 L233.18,161.34 L234.73,161.25 L236.22,161.15 L237.68,161.04 L239.08,160.93 L240.43,160.82 L241.74,160.71 L242.99,160.59 L244.20,160.48 L245.37,160.37 L246.48,160.26 L247.55,160.15 L248.57,160.05 L249.55,159.95 L250.48,159.86 L251.36,159.78 L252.20,159.71 L252.99,159.64 L253.73,159.59 L254.43,159.54 L255.08,159.51 L255.69,159.50 L255.51,156.90 L254.88,156.97 L254.20,157.06 L253.48,157.16 L252.72,157.27 L251.93,157.38 L251.09,157.51 L250.20,157.65 L249.28,157.79 L248.31,157.94 L247.29,158.09 L246.24,158.25 L245.13,158.41 L243.98,158.58 L242.78,158.74 L241.54,158.91 L240.25,159.07 L238.91,159.23 L237.52,159.39 L236.08,159.55 L234.60,159.70 L233.06,159.85 L231.48,159.99 L229.85,160.12 L228.16,160.25 L226.42,160.36 L224.64,160.46 L222.80,160.56 L220.91,160.64 L218.96,160.70 L216.97,160.75 L214.92,160.79 L212.81,160.81 L210.66,160.81 L208.44,160.79 L206.18,160.76 L203.86,160.70 L201.48,160.62 L199.05,160.52 L196.56,160.40 L194.02,160.25Z" fill="#6a8fcb" opacity="0.85"/>
<path d="M262.6,158.2 L253.6,160.8 L254.8,158.2 L253.6,155.6Z" fill="#6a8fcb" opacity="0.9"/>
<path d="M248,196.3 C272.4,191 319.3,191 329.3,201.5" fill="none" stroke="#9fbbe4" stroke-width="1.4"/>
<linearGradient id="wg3" gradientUnits="userSpaceOnUse" x1="255" x2="313" y1="0" y2="0"><stop offset="0" stop-color="#efe6f4"/><stop offset="0.18" stop-color="#c4a6da"/><stop offset="0.33" stop-color="#8450b0"/><stop offset="0.5" stop-color="#6a2e9c"/><stop offset="0.67" stop-color="#8450b0"/><stop offset="0.82" stop-color="#c4a6da"/><stop offset="1" stop-color="#efe6f4"/></linearGradient>
<path d="M255.00,201.94 L255.12,201.87 L255.23,201.79 L255.35,201.71 L255.46,201.63 L255.58,201.54 L255.70,201.44 L255.81,201.34 L255.93,201.24 L256.04,201.14 L256.16,201.04 L256.28,200.93 L256.39,200.83 L256.51,200.73 L256.62,200.63 L256.74,200.53 L256.86,200.43 L256.97,200.34 L257.09,200.26 L257.20,200.18 L257.32,200.11 L257.44,200.04 L257.55,199.98 L257.67,199.93 L257.78,199.87 L257.90,199.81 L258.02,199.76 L258.13,199.72 L258.25,199.68 L258.36,199.65 L258.48,199.64 L258.60,199.63 L258.71,199.64 L258.83,199.65 L258.94,199.68 L259.06,199.72 L259.18,199.77 L259.29,199.84 L259.41,199.91 L259.52,200.00 L259.64,200.10 L259.76,200.21 L259.87,200.33 L259.99,200.46 L260.10,200.60 L260.22,200.75 L260.34,200.91 L260.45,201.07 L260.57,201.24 L260.68,201.42 L260.80,201.59 L260.92,201.77 L261.03,201.95 L261.15,202.13 L261.26,202.31 L261.38,202.48 L261.50,202.64 L261.61,202.80 L261.73,202.95 L261.84,203.09 L261.96,203.22 L262.08,203.33 L262.19,203.43 L262.31,203.51 L262.42,203.58 L262.54,203.62 L262.66,203.65 L262.77,203.66 L262.89,203.64 L263.00,203.61 L263.12,203.55 L263.24,203.47 L263.35,203.37 L263.47,203.24 L263.58,203.10 L263.70,202.93 L263.82,202.74 L263.93,202.53 L264.05,202.30 L264.16,202.05 L264.28,201.79 L264.40,201.52 L264.51,201.23 L264.63,200.93 L264.74,200.62 L264.86,200.30 L264.98,199.98 L265.09,199.66 L265.21,199.34 L265.32,199.03 L265.44,198.72 L265.56,198.42 L265.67,198.13 L265.79,197.85 L265.90,197.60 L266.02,197.36 L266.14,197.14 L266.25,196.95 L266.37,196.79 L266.48,196.65 L266.60,196.55 L266.72,196.47 L266.83,196.43 L266.95,196.43 L267.06,196.46 L267.18,196.53 L267.30,196.64 L267.41,196.78 L267.53,196.96 L267.64,197.17 L267.76,197.43 L267.88,197.71 L267.99,198.03 L268.11,198.38 L268.22,198.76 L268.34,199.17 L268.46,199.60 L268.57,200.06 L268.69,200.53 L268.80,201.02 L268.92,201.52 L269.04,202.02 L269.15,202.53 L269.27,203.04 L269.38,203.55 L269.50,204.05 L269.62,204.53 L269.73,205.00 L269.85,205.45 L269.96,205.87 L270.08,206.26 L270.20,206.62 L270.31,206.95 L270.43,207.23 L270.54,207.48 L270.66,207.67 L270.78,207.82 L270.89,207.92 L271.01,207.97 L271.12,207.96 L271.24,207.90 L271.36,207.79 L271.47,207.62 L271.59,207.39 L271.70,207.11 L271.82,206.78 L271.94,206.40 L272.05,205.96 L272.17,205.49 L272.28,204.96 L272.40,204.40 L272.52,203.80 L272.63,203.17 L272.75,202.51 L272.86,201.82 L272.98,201.12 L273.10,200.41 L273.21,199.69 L273.33,198.96 L273.44,198.24 L273.56,197.53 L273.68,196.84 L273.79,196.16 L273.91,195.52 L274.02,194.90 L274.14,194.33 L274.26,193.79 L274.37,193.31 L274.49,192.87 L274.60,192.50 L274.72,192.18 L274.84,191.92 L274.95,191.74 L275.07,191.62 L275.18,191.57 L275.30,191.60 L275.42,191.69 L275.53,191.87 L275.65,192.11 L275.76,192.42 L275.88,192.81 L276.00,193.26 L276.11,193.78 L276.23,194.36 L276.34,195.00 L276.46,195.69 L276.58,196.43 L276.69,197.21 L276.81,198.03 L276.92,198.88 L277.04,199.76 L277.16,200.66 L277.27,201.56 L277.39,202.48 L277.50,203.39 L277.62,204.29 L277.74,205.17 L277.85,206.04 L277.97,206.87 L278.08,207.66 L278.20,208.41 L278.32,209.10 L278.43,209.75 L278.55,210.33 L278.66,210.84 L278.78,211.28 L278.90,211.65 L279.01,211.93 L279.13,212.14 L279.24,212.26 L279.36,212.30 L279.48,212.25 L279.59,212.11 L279.71,211.89 L279.82,211.58 L279.94,211.19 L280.06,210.72 L280.17,210.18 L280.29,209.56 L280.40,208.87 L280.52,208.12 L280.64,207.31 L280.75,206.45 L280.87,205.54 L280.98,204.59 L281.10,203.62 L281.22,202.62 L281.33,201.60 L281.45,200.58 L281.56,199.55 L281.68,198.53 L281.80,197.53 L281.91,196.55 L282.03,195.61 L282.14,194.70 L282.26,193.84 L282.38,193.03 L282.49,192.28 L282.61,191.60 L282.72,190.99 L282.84,190.45 L282.96,189.99 L283.07,189.62 L283.19,189.33 L283.30,189.13 L283.42,189.02 L283.54,189.00 L283.65,189.08 L283.77,189.24 L283.88,189.50 L284.00,189.84 L284.12,190.27 L284.23,190.77 L284.35,191.36 L284.46,192.02 L284.58,192.74 L284.70,193.53 L284.81,194.37 L284.93,195.26 L285.04,196.19 L285.16,197.16 L285.28,198.15 L285.39,199.16 L285.51,200.19 L285.62,201.21 L285.74,202.23 L285.86,203.24 L285.97,204.23 L286.09,205.19 L286.20,206.11 L286.32,206.99 L286.44,207.82 L286.55,208.59 L286.67,209.31 L286.78,209.95 L286.90,210.53 L287.02,211.03 L287.13,211.45 L287.25,211.78 L287.36,212.04 L287.48,212.21 L287.60,212.29 L287.71,212.29 L287.83,212.20 L287.94,212.02 L288.06,211.76 L288.18,211.43 L288.29,211.01 L288.41,210.53 L288.52,209.97 L288.64,209.35 L288.76,208.68 L288.87,207.95 L288.99,207.17 L289.10,206.35 L289.22,205.50 L289.34,204.63 L289.45,203.73 L289.57,202.82 L289.68,201.91 L289.80,201.00 L289.92,200.10 L290.03,199.21 L290.15,198.35 L290.26,197.52 L290.38,196.72 L290.50,195.96 L290.61,195.25 L290.73,194.59 L290.84,193.99 L290.96,193.45 L291.08,192.97 L291.19,192.56 L291.31,192.22 L291.42,191.95 L291.54,191.75 L291.66,191.63 L291.77,191.57 L291.89,191.59 L292.00,191.68 L292.12,191.85 L292.24,192.07 L292.35,192.37 L292.47,192.72 L292.58,193.14 L292.70,193.60 L292.82,194.12 L292.93,194.68 L293.05,195.28 L293.16,195.92 L293.28,196.58 L293.40,197.27 L293.51,197.97 L293.63,198.69 L293.74,199.41 L293.86,200.13 L293.98,200.85 L294.09,201.56 L294.21,202.25 L294.32,202.92 L294.44,203.56 L294.56,204.18 L294.67,204.75 L294.79,205.29 L294.90,205.79 L295.02,206.24 L295.14,206.64 L295.25,206.99 L295.37,207.29 L295.48,207.54 L295.60,207.73 L295.72,207.87 L295.83,207.95 L295.95,207.97 L296.06,207.95 L296.18,207.87 L296.30,207.74 L296.41,207.56 L296.53,207.33 L296.64,207.06 L296.76,206.75 L296.88,206.40 L296.99,206.02 L297.11,205.61 L297.22,205.17 L297.34,204.71 L297.46,204.23 L297.57,203.74 L297.69,203.23 L297.80,202.73 L297.92,202.22 L298.04,201.71 L298.15,201.20 L298.27,200.71 L298.38,200.24 L298.50,199.77 L298.62,199.33 L298.73,198.92 L298.85,198.53 L298.96,198.16 L299.08,197.83 L299.20,197.53 L299.31,197.27 L299.43,197.04 L299.54,196.84 L299.66,196.69 L299.78,196.57 L299.89,196.48 L300.01,196.44 L300.12,196.43 L300.24,196.45 L300.36,196.51 L300.47,196.61 L300.59,196.73 L300.70,196.89 L300.82,197.07 L300.94,197.27 L301.05,197.50 L301.17,197.75 L301.28,198.02 L301.40,198.31 L301.52,198.60 L301.63,198.91 L301.75,199.22 L301.86,199.54 L301.98,199.86 L302.10,200.18 L302.21,200.50 L302.33,200.81 L302.44,201.11 L302.56,201.41 L302.68,201.69 L302.79,201.96 L302.91,202.21 L303.02,202.44 L303.14,202.66 L303.26,202.86 L303.37,203.03 L303.49,203.19 L303.60,203.32 L303.72,203.43 L303.84,203.52 L303.95,203.59 L304.07,203.63 L304.18,203.65 L304.30,203.66 L304.42,203.64 L304.53,203.60 L304.65,203.54 L304.76,203.46 L304.88,203.37 L305.00,203.26 L305.11,203.14 L305.23,203.00 L305.34,202.86 L305.46,202.70 L305.58,202.54 L305.69,202.37 L305.81,202.20 L305.92,202.02 L306.04,201.84 L306.16,201.66 L306.27,201.48 L306.39,201.31 L306.50,201.14 L306.62,200.97 L306.74,200.81 L306.85,200.66 L306.97,200.51 L307.08,200.38 L307.20,200.25 L307.32,200.14 L307.43,200.04 L307.55,199.94 L307.66,199.86 L307.78,199.79 L307.90,199.74 L308.01,199.69 L308.13,199.66 L308.24,199.64 L308.36,199.63 L308.48,199.63 L308.59,199.65 L308.71,199.67 L308.82,199.70 L308.94,199.74 L309.06,199.79 L309.17,199.85 L309.29,199.91 L309.40,199.96 L309.52,200.02 L309.64,200.08 L309.75,200.15 L309.87,200.23 L309.98,200.31 L310.10,200.40 L310.22,200.49 L310.33,200.59 L310.45,200.69 L310.56,200.79 L310.68,200.89 L310.80,201.00 L310.91,201.10 L311.03,201.20 L311.14,201.31 L311.26,201.40 L311.38,201.50 L311.49,201.59 L311.61,201.68 L311.72,201.76 L311.84,201.84 L311.96,201.91 L312.07,201.98 L312.19,202.03 L312.30,202.08 L312.42,202.12 L312.54,202.16 L312.65,202.18 L312.77,202.19 L312.88,202.20 L313.00,202.20" fill="none" stroke="url(#wg3)" stroke-width="1.35" stroke-linejoin="round"/>
<path d="M328.81,201.59 L328.83,201.87 L328.82,202.11 L328.78,202.36 L328.71,202.61 L328.61,202.86 L328.48,203.11 L328.32,203.37 L328.14,203.63 L327.92,203.90 L327.67,204.17 L327.40,204.44 L327.09,204.71 L326.76,204.98 L326.39,205.25 L326.00,205.52 L325.58,205.78 L325.14,206.04 L324.67,206.30 L324.17,206.55 L323.65,206.79 L323.10,207.03 L322.53,207.26 L321.94,207.48 L321.32,207.70 L320.69,207.90 L320.03,208.09 L319.35,208.28 L318.65,208.45 L317.94,208.60 L317.20,208.75 L316.45,208.88 L315.68,209.00 L314.89,209.10 L314.09,209.19 L313.28,209.26 L312.45,209.31 L311.60,209.35 L310.75,209.37 L309.88,209.37 L308.98,209.35 L309.02,212.65 L309.95,212.61 L310.89,212.55 L311.81,212.47 L312.72,212.37 L313.61,212.25 L314.49,212.12 L315.34,211.96 L316.18,211.79 L317.00,211.61 L317.80,211.41 L318.58,211.19 L319.34,210.96 L320.08,210.72 L320.80,210.46 L321.50,210.20 L322.17,209.92 L322.82,209.63 L323.45,209.33 L324.05,209.02 L324.63,208.71 L325.18,208.38 L325.70,208.05 L326.20,207.71 L326.67,207.36 L327.12,207.01 L327.53,206.65 L327.91,206.29 L328.27,205.92 L328.59,205.55 L328.89,205.17 L329.14,204.80 L329.37,204.41 L329.56,204.03 L329.72,203.64 L329.83,203.26 L329.91,202.87 L329.94,202.49 L329.93,202.11 L329.88,201.74 L329.79,201.41Z" fill="#6a8fcb" opacity="0.8"/>
<path d="M302.0,211.0 L310.5,208.2 L309.3,211.0 L310.5,213.8Z" fill="#6a8fcb" opacity="0.85"/>
<path d="M261.99,202.75 L260.07,202.81 L258.26,202.88 L256.55,202.94 L254.93,203.01 L253.41,203.08 L251.97,203.15 L250.62,203.22 L249.34,203.29 L248.13,203.37 L246.98,203.44 L245.90,203.51 L244.87,203.59 L243.89,203.66 L242.95,203.73 L242.06,203.80 L241.19,203.87 L240.36,203.94 L239.55,204.00 L238.77,204.07 L237.99,204.13 L237.23,204.19 L236.47,204.25 L235.70,204.30 L234.93,204.35 L234.15,204.40 L233.35,204.45 L232.53,204.49 L231.69,204.53 L230.81,204.56 L229.89,204.59 L228.92,204.61 L227.91,204.63 L226.84,204.65 L225.71,204.66 L224.52,204.66 L223.26,204.66 L221.92,204.66 L220.50,204.64 L219.00,204.63 L217.40,204.60 L217.40,207.40 L219.01,207.37 L220.53,207.33 L221.96,207.28 L223.31,207.23 L224.59,207.18 L225.79,207.11 L226.93,207.05 L228.01,206.97 L229.04,206.89 L230.02,206.81 L230.95,206.72 L231.84,206.63 L232.70,206.53 L233.53,206.43 L234.34,206.33 L235.12,206.22 L235.90,206.11 L236.66,206.00 L237.42,205.89 L238.18,205.77 L238.95,205.65 L239.73,205.53 L240.53,205.40 L241.36,205.28 L242.21,205.15 L243.09,205.03 L244.02,204.90 L244.99,204.77 L246.00,204.64 L247.08,204.51 L248.21,204.38 L249.41,204.25 L250.68,204.12 L252.03,203.99 L253.46,203.87 L254.98,203.74 L256.58,203.61 L258.29,203.49 L260.10,203.37 L262.01,203.25Z" fill="#6a8fcb" opacity="0.8"/>
<path d="M209.4,206.0 L220.4,203.0 L218.9,206.0 L220.4,209.0Z" fill="#6a8fcb" opacity="0.85"/>
<path d="M202.97,197.05 L204.62,197.25 L206.22,197.44 L207.76,197.61 L209.26,197.76 L210.70,197.90 L212.09,198.02 L213.44,198.12 L214.74,198.22 L216.00,198.29 L217.22,198.36 L218.39,198.41 L219.53,198.45 L220.62,198.48 L221.68,198.51 L222.71,198.52 L223.70,198.52 L224.66,198.51 L225.58,198.50 L226.48,198.48 L227.35,198.45 L228.19,198.42 L229.01,198.38 L229.80,198.33 L230.58,198.29 L231.32,198.24 L232.05,198.19 L232.76,198.13 L233.46,198.08 L234.13,198.02 L234.79,197.97 L235.44,197.92 L236.08,197.87 L236.70,197.82 L237.32,197.77 L237.93,197.73 L238.52,197.69 L239.12,197.66 L239.71,197.63 L240.30,197.61 L240.89,197.60 L240.71,195.00 L240.11,195.07 L239.50,195.15 L238.89,195.23 L238.28,195.31 L237.67,195.41 L237.06,195.50 L236.44,195.60 L235.82,195.70 L235.18,195.81 L234.54,195.91 L233.89,196.02 L233.23,196.12 L232.55,196.23 L231.85,196.33 L231.14,196.44 L230.40,196.54 L229.65,196.63 L228.87,196.73 L228.07,196.82 L227.25,196.90 L226.40,196.98 L225.51,197.05 L224.60,197.12 L223.66,197.18 L222.68,197.23 L221.67,197.27 L220.62,197.30 L219.54,197.32 L218.41,197.34 L217.25,197.33 L216.04,197.32 L214.79,197.30 L213.49,197.26 L212.15,197.20 L210.75,197.14 L209.31,197.05 L207.82,196.95 L206.28,196.84 L204.68,196.70 L203.03,196.55Z" fill="#6a8fcb" opacity="0.85"/>
<path d="M247.8,196.3 L238.8,198.9 L240.0,196.3 L238.8,193.7Z" fill="#6a8fcb" opacity="0.9"/>
<path d="M240,247.4 C260.3,243 297.6,243 307.6,251.6" fill="none" stroke="#9fbbe4" stroke-width="1.4"/>
<linearGradient id="wg4" gradientUnits="userSpaceOnUse" x1="249" x2="298" y1="0" y2="0"><stop offset="0" stop-color="#efe6f4"/><stop offset="0.18" stop-color="#c4a6da"/><stop offset="0.33" stop-color="#8450b0"/><stop offset="0.5" stop-color="#6a2e9c"/><stop offset="0.67" stop-color="#8450b0"/><stop offset="0.82" stop-color="#c4a6da"/><stop offset="1" stop-color="#efe6f4"/></linearGradient>
<path d="M249.00,249.62 L249.10,249.68 L249.20,249.75 L249.29,249.81 L249.39,249.88 L249.49,249.96 L249.59,250.03 L249.69,250.10 L249.78,250.18 L249.88,250.26 L249.98,250.34 L250.08,250.43 L250.18,250.51 L250.27,250.59 L250.37,250.68 L250.47,250.77 L250.57,250.85 L250.67,250.94 L250.76,251.03 L250.86,251.11 L250.96,251.20 L251.06,251.28 L251.16,251.37 L251.25,251.45 L251.35,251.53 L251.45,251.60 L251.55,251.68 L251.65,251.75 L251.74,251.82 L251.84,251.89 L251.94,251.95 L252.04,252.01 L252.14,252.07 L252.23,252.12 L252.33,252.17 L252.43,252.21 L252.53,252.24 L252.63,252.28 L252.72,252.30 L252.82,252.32 L252.92,252.34 L253.02,252.34 L253.12,252.34 L253.21,252.34 L253.31,252.33 L253.41,252.31 L253.51,252.28 L253.61,252.25 L253.70,252.21 L253.80,252.16 L253.90,252.11 L254.00,252.05 L254.10,251.98 L254.19,251.90 L254.29,251.82 L254.39,251.73 L254.49,251.63 L254.59,251.53 L254.68,251.42 L254.78,251.30 L254.88,251.18 L254.98,251.04 L255.08,250.91 L255.17,250.77 L255.27,250.62 L255.37,250.46 L255.47,250.31 L255.57,250.14 L255.66,249.98 L255.76,249.80 L255.86,249.63 L255.96,249.45 L256.06,249.27 L256.15,249.09 L256.25,248.91 L256.35,248.72 L256.45,248.54 L256.55,248.35 L256.64,248.17 L256.74,247.98 L256.84,247.80 L256.94,247.62 L257.04,247.44 L257.13,247.26 L257.23,247.09 L257.33,246.92 L257.43,246.76 L257.53,246.60 L257.62,246.45 L257.72,246.31 L257.82,246.17 L257.92,246.04 L258.02,245.92 L258.11,245.81 L258.21,245.70 L258.31,245.61 L258.41,245.52 L258.51,245.45 L258.60,245.38 L258.70,245.33 L258.80,245.29 L258.90,245.26 L259.00,245.25 L259.09,245.24 L259.19,245.25 L259.29,245.28 L259.39,245.31 L259.49,245.36 L259.58,245.43 L259.68,245.50 L259.78,245.59 L259.88,245.70 L259.98,245.81 L260.07,245.95 L260.17,246.09 L260.27,246.25 L260.37,246.42 L260.47,246.60 L260.56,246.80 L260.66,247.01 L260.76,247.23 L260.86,247.46 L260.96,247.70 L261.05,247.95 L261.15,248.22 L261.25,248.49 L261.35,248.77 L261.45,249.06 L261.54,249.36 L261.64,249.66 L261.74,249.97 L261.84,250.28 L261.94,250.60 L262.03,250.92 L262.13,251.25 L262.23,251.58 L262.33,251.91 L262.43,252.24 L262.52,252.56 L262.62,252.89 L262.72,253.21 L262.82,253.53 L262.92,253.85 L263.01,254.16 L263.11,254.46 L263.21,254.76 L263.31,255.05 L263.41,255.33 L263.50,255.60 L263.60,255.85 L263.70,256.10 L263.80,256.33 L263.90,256.55 L263.99,256.76 L264.09,256.95 L264.19,257.12 L264.29,257.28 L264.39,257.42 L264.48,257.54 L264.58,257.65 L264.68,257.73 L264.78,257.80 L264.88,257.85 L264.97,257.87 L265.07,257.88 L265.17,257.86 L265.27,257.83 L265.37,257.77 L265.46,257.69 L265.56,257.59 L265.66,257.47 L265.76,257.32 L265.86,257.16 L265.95,256.97 L266.05,256.77 L266.15,256.54 L266.25,256.29 L266.35,256.03 L266.44,255.74 L266.54,255.44 L266.64,255.12 L266.74,254.78 L266.84,254.42 L266.93,254.05 L267.03,253.66 L267.13,253.26 L267.23,252.85 L267.33,252.43 L267.42,251.99 L267.52,251.55 L267.62,251.09 L267.72,250.63 L267.82,250.16 L267.91,249.69 L268.01,249.21 L268.11,248.73 L268.21,248.25 L268.31,247.77 L268.40,247.29 L268.50,246.82 L268.60,246.34 L268.70,245.88 L268.80,245.42 L268.89,244.96 L268.99,244.52 L269.09,244.09 L269.19,243.66 L269.29,243.26 L269.38,242.86 L269.48,242.48 L269.58,242.12 L269.68,241.78 L269.78,241.45 L269.87,241.15 L269.97,240.86 L270.07,240.60 L270.17,240.36 L270.27,240.14 L270.36,239.95 L270.46,239.78 L270.56,239.64 L270.66,239.53 L270.76,239.44 L270.85,239.38 L270.95,239.34 L271.05,239.33 L271.15,239.36 L271.25,239.40 L271.34,239.48 L271.44,239.59 L271.54,239.72 L271.64,239.88 L271.74,240.07 L271.83,240.28 L271.93,240.53 L272.03,240.79 L272.13,241.09 L272.23,241.41 L272.32,241.75 L272.42,242.11 L272.52,242.50 L272.62,242.91 L272.72,243.34 L272.81,243.79 L272.91,244.26 L273.01,244.74 L273.11,245.25 L273.21,245.76 L273.30,246.29 L273.40,246.83 L273.50,247.38 L273.60,247.94 L273.70,248.51 L273.79,249.08 L273.89,249.66 L273.99,250.24 L274.09,250.82 L274.19,251.40 L274.28,251.98 L274.38,252.55 L274.48,253.13 L274.58,253.69 L274.68,254.25 L274.77,254.79 L274.87,255.33 L274.97,255.85 L275.07,256.36 L275.17,256.85 L275.26,257.33 L275.36,257.79 L275.46,258.22 L275.56,258.64 L275.66,259.04 L275.75,259.41 L275.85,259.76 L275.95,260.09 L276.05,260.38 L276.15,260.66 L276.24,260.90 L276.34,261.12 L276.44,261.30 L276.54,261.46 L276.64,261.59 L276.73,261.69 L276.83,261.75 L276.93,261.79 L277.03,261.80 L277.13,261.77 L277.22,261.72 L277.32,261.63 L277.42,261.52 L277.52,261.37 L277.62,261.20 L277.71,261.00 L277.81,260.76 L277.91,260.50 L278.01,260.22 L278.11,259.90 L278.20,259.56 L278.30,259.20 L278.40,258.82 L278.50,258.41 L278.60,257.98 L278.69,257.53 L278.79,257.06 L278.89,256.57 L278.99,256.07 L279.09,255.55 L279.18,255.02 L279.28,254.48 L279.38,253.93 L279.48,253.37 L279.58,252.80 L279.67,252.23 L279.77,251.65 L279.87,251.07 L279.97,250.49 L280.07,249.91 L280.16,249.33 L280.26,248.75 L280.36,248.18 L280.46,247.62 L280.56,247.06 L280.65,246.52 L280.75,245.99 L280.85,245.46 L280.95,244.96 L281.05,244.47 L281.14,243.99 L281.24,243.53 L281.34,243.09 L281.44,242.68 L281.54,242.28 L281.63,241.90 L281.73,241.55 L281.83,241.22 L281.93,240.92 L282.03,240.64 L282.12,240.38 L282.22,240.16 L282.32,239.96 L282.42,239.79 L282.52,239.64 L282.61,239.52 L282.71,239.43 L282.81,239.37 L282.91,239.34 L283.01,239.33 L283.10,239.36 L283.20,239.41 L283.30,239.48 L283.40,239.59 L283.50,239.72 L283.59,239.88 L283.69,240.06 L283.79,240.26 L283.89,240.49 L283.99,240.75 L284.08,241.02 L284.18,241.32 L284.28,241.64 L284.38,241.97 L284.48,242.33 L284.57,242.70 L284.67,243.09 L284.77,243.49 L284.87,243.90 L284.97,244.33 L285.06,244.77 L285.16,245.22 L285.26,245.68 L285.36,246.14 L285.46,246.61 L285.55,247.09 L285.65,247.57 L285.75,248.05 L285.85,248.53 L285.95,249.01 L286.04,249.49 L286.14,249.96 L286.24,250.43 L286.34,250.90 L286.44,251.35 L286.53,251.80 L286.63,252.24 L286.73,252.67 L286.83,253.09 L286.93,253.49 L287.02,253.89 L287.12,254.26 L287.22,254.63 L287.32,254.97 L287.42,255.30 L287.51,255.61 L287.61,255.91 L287.71,256.18 L287.81,256.44 L287.91,256.67 L288.00,256.89 L288.10,257.08 L288.20,257.25 L288.30,257.41 L288.40,257.54 L288.49,257.65 L288.59,257.74 L288.69,257.80 L288.79,257.85 L288.89,257.87 L288.98,257.88 L289.08,257.86 L289.18,257.82 L289.28,257.77 L289.38,257.69 L289.47,257.59 L289.57,257.48 L289.67,257.34 L289.77,257.19 L289.87,257.03 L289.96,256.84 L290.06,256.64 L290.16,256.43 L290.26,256.20 L290.36,255.96 L290.45,255.71 L290.55,255.44 L290.65,255.17 L290.75,254.88 L290.85,254.59 L290.94,254.29 L291.04,253.98 L291.14,253.67 L291.24,253.35 L291.34,253.03 L291.43,252.70 L291.53,252.38 L291.63,252.05 L291.73,251.72 L291.83,251.39 L291.92,251.06 L292.02,250.74 L292.12,250.42 L292.22,250.10 L292.32,249.79 L292.41,249.48 L292.51,249.18 L292.61,248.89 L292.71,248.61 L292.81,248.33 L292.90,248.06 L293.00,247.81 L293.10,247.56 L293.20,247.32 L293.30,247.10 L293.39,246.89 L293.49,246.68 L293.59,246.50 L293.69,246.32 L293.79,246.16 L293.88,246.01 L293.98,245.87 L294.08,245.75 L294.18,245.64 L294.28,245.54 L294.37,245.46 L294.47,245.39 L294.57,245.33 L294.67,245.29 L294.77,245.26 L294.86,245.25 L294.96,245.25 L295.06,245.26 L295.16,245.28 L295.26,245.31 L295.35,245.36 L295.45,245.42 L295.55,245.49 L295.65,245.57 L295.75,245.66 L295.84,245.76 L295.94,245.87 L296.04,245.99 L296.14,246.11 L296.24,246.25 L296.33,246.39 L296.43,246.54 L296.53,246.69 L296.63,246.85 L296.73,247.02 L296.82,247.19 L296.92,247.36 L297.02,247.54 L297.12,247.72 L297.22,247.90 L297.31,248.09 L297.41,248.27 L297.51,248.46 L297.61,248.64 L297.71,248.83 L297.80,249.01 L297.90,249.20 L298.00,249.38" fill="none" stroke="url(#wg4)" stroke-width="1.35" stroke-linejoin="round"/>
<path d="M307.11,251.69 L307.13,251.97 L307.12,252.21 L307.08,252.45 L307.01,252.70 L306.92,252.94 L306.80,253.19 L306.65,253.44 L306.47,253.70 L306.27,253.95 L306.05,254.21 L305.80,254.47 L305.52,254.72 L305.23,254.98 L304.91,255.23 L304.57,255.49 L304.21,255.73 L303.83,255.98 L303.44,256.22 L303.03,256.45 L302.60,256.68 L302.16,256.89 L301.71,257.11 L301.25,257.31 L300.78,257.50 L300.30,257.69 L299.81,257.87 L299.31,258.03 L298.82,258.18 L298.32,258.32 L297.81,258.45 L297.31,258.57 L296.81,258.67 L296.31,258.76 L295.81,258.83 L295.32,258.89 L294.83,258.93 L294.36,258.96 L293.89,258.97 L293.44,258.97 L292.97,258.95 L293.03,262.25 L293.56,262.21 L294.12,262.15 L294.68,262.07 L295.24,261.98 L295.81,261.86 L296.37,261.73 L296.93,261.59 L297.49,261.43 L298.05,261.25 L298.60,261.06 L299.15,260.86 L299.69,260.64 L300.23,260.41 L300.75,260.17 L301.27,259.92 L301.78,259.66 L302.28,259.39 L302.77,259.11 L303.24,258.82 L303.70,258.52 L304.14,258.22 L304.57,257.91 L304.98,257.59 L305.38,257.26 L305.75,256.93 L306.10,256.59 L306.44,256.24 L306.75,255.89 L307.03,255.54 L307.29,255.18 L307.52,254.82 L307.72,254.45 L307.90,254.08 L308.04,253.70 L308.14,253.33 L308.21,252.95 L308.24,252.57 L308.23,252.20 L308.18,251.84 L308.09,251.51Z" fill="#6a8fcb" opacity="0.8"/>
<path d="M286.0,260.6 L294.5,257.8 L293.3,260.6 L294.5,263.4Z" fill="#6a8fcb" opacity="0.85"/>
<path d="M256.99,252.25 L255.79,252.26 L254.69,252.27 L253.70,252.29 L252.79,252.30 L251.98,252.31 L251.24,252.33 L250.58,252.34 L249.99,252.36 L249.46,252.37 L248.99,252.39 L248.57,252.40 L248.19,252.42 L247.85,252.44 L247.54,252.45 L247.26,252.47 L247.00,252.48 L246.76,252.50 L246.53,252.51 L246.30,252.52 L246.08,252.53 L245.85,252.54 L245.61,252.55 L245.35,252.55 L245.06,252.56 L244.73,252.56 L244.37,252.56 L243.95,252.56 L243.49,252.56 L242.96,252.56 L242.37,252.56 L241.70,252.55 L240.96,252.55 L240.14,252.54 L239.22,252.52 L238.21,252.51 L237.10,252.49 L235.87,252.47 L234.54,252.45 L233.08,252.43 L231.50,252.40 L231.50,255.20 L233.09,255.17 L234.55,255.14 L235.89,255.10 L237.12,255.06 L238.24,255.02 L239.26,254.98 L240.19,254.93 L241.02,254.88 L241.78,254.83 L242.45,254.78 L243.06,254.73 L243.60,254.67 L244.09,254.61 L244.52,254.55 L244.91,254.49 L245.26,254.43 L245.57,254.36 L245.85,254.29 L246.11,254.23 L246.36,254.16 L246.58,254.09 L246.80,254.02 L247.02,253.95 L247.25,253.88 L247.48,253.81 L247.74,253.74 L248.02,253.67 L248.34,253.60 L248.69,253.53 L249.10,253.46 L249.55,253.39 L250.07,253.31 L250.64,253.24 L251.29,253.17 L252.02,253.10 L252.83,253.03 L253.72,252.96 L254.72,252.89 L255.81,252.82 L257.01,252.75Z" fill="#6a8fcb" opacity="0.8"/>
<path d="M223.5,253.8 L234.5,250.8 L233.0,253.8 L234.5,256.8Z" fill="#6a8fcb" opacity="0.85"/>
<path d="M216.95,247.44 L217.76,247.65 L218.52,247.84 L219.22,248.01 L219.88,248.17 L220.50,248.32 L221.07,248.45 L221.60,248.57 L222.09,248.68 L222.55,248.78 L222.98,248.86 L223.37,248.94 L223.75,249.00 L224.09,249.06 L224.42,249.10 L224.73,249.14 L225.02,249.16 L225.30,249.18 L225.57,249.19 L225.82,249.20 L226.07,249.19 L226.32,249.18 L226.55,249.17 L226.79,249.15 L227.02,249.12 L227.25,249.10 L227.49,249.07 L227.72,249.04 L227.97,249.01 L228.23,248.98 L228.50,248.95 L228.78,248.91 L229.09,248.88 L229.42,248.85 L229.77,248.82 L230.15,248.80 L230.57,248.77 L231.01,248.75 L231.50,248.73 L232.02,248.71 L232.59,248.70 L232.41,246.10 L231.83,246.17 L231.27,246.24 L230.76,246.32 L230.28,246.40 L229.84,246.48 L229.43,246.56 L229.05,246.65 L228.70,246.74 L228.37,246.83 L228.07,246.92 L227.79,247.00 L227.53,247.09 L227.29,247.17 L227.06,247.26 L226.84,247.33 L226.64,247.41 L226.44,247.48 L226.25,247.54 L226.06,247.60 L225.86,247.66 L225.67,247.71 L225.46,247.75 L225.24,247.79 L225.00,247.82 L224.75,247.85 L224.47,247.87 L224.17,247.88 L223.85,247.88 L223.49,247.87 L223.11,247.85 L222.69,247.82 L222.24,247.77 L221.74,247.72 L221.21,247.65 L220.64,247.57 L220.02,247.48 L219.36,247.37 L218.64,247.25 L217.87,247.11 L217.05,246.96Z" fill="#6a8fcb" opacity="0.85"/>
<path d="M239.5,247.4 L230.5,250.0 L231.7,247.4 L230.5,244.8Z" fill="#6a8fcb" opacity="0.9"/>
<path d="M57.06,8.74 L57.25,11.13 L57.44,13.52 L57.63,15.91 L57.83,18.30 L58.02,20.70 L58.22,23.09 L58.42,25.49 L58.62,27.89 L58.83,30.29 L59.03,32.69 L59.24,35.09 L59.45,37.50 L59.66,39.90 L59.88,42.31 L60.09,44.72 L60.31,47.12 L60.53,49.53 L60.76,51.94 L60.98,54.35 L61.21,56.76 L61.44,59.18 L61.67,61.59 L61.90,64.00 L62.14,66.42 L62.37,68.83 L62.61,71.25 L62.86,73.66 L63.10,76.08 L63.35,78.49 L63.60,80.91 L63.85,83.33 L64.10,85.74 L64.36,88.16 L64.62,90.58 L64.88,92.99 L65.15,95.41 L65.41,97.83 L65.68,100.25 L65.96,102.66 L66.23,105.08 L66.51,107.50 L66.79,109.91 L67.07,112.33 L67.36,114.75 L67.64,117.16 L67.94,119.58 L68.23,121.99 L68.53,124.41 L68.82,126.82 L69.13,129.23 L69.43,131.64 L69.74,134.06 L70.05,136.47 L70.36,138.88 L70.68,141.29 L71.00,143.69 L71.32,146.10 L71.65,148.51 L71.98,150.91 L72.31,153.32 L72.64,155.72 L72.98,158.12 L73.32,160.52 L73.67,162.92 L74.01,165.32 L74.37,167.72 L74.72,170.11 L75.08,172.51 L75.44,174.90 L75.80,177.29 L76.17,179.68 L76.54,182.07 L76.91,184.45 L77.29,186.84 L77.67,189.22 L78.06,191.60 L78.45,193.99 L78.84,196.36 L79.24,198.74 L79.65,201.12 L80.06,203.49 L80.47,205.87 L80.89,208.24 L81.31,210.61 L81.74,212.98 L82.18,215.35 L82.62,217.71 L83.06,220.08 L83.51,222.44 L83.97,224.81 L84.44,227.17 L84.91,229.53 L85.39,231.89 L85.87,234.24 L86.36,236.60 L86.86,238.96 L87.36,241.31 L87.88,243.66 L88.39,246.02 L88.92,248.37 L89.46,250.72 L90.00,253.07 L90.55,255.41 L91.11,257.76 L91.67,260.11 L92.25,262.45 L92.83,264.79 L93.42,267.14 L94.02,269.48 L94.63,271.82 L95.25,274.16 L95.88,276.50 L96.52,278.83 L97.16,281.17 L97.82,283.51 L98.48,285.84 L99.16,288.18 L99.85,290.51 L100.54,292.84 L101.25,295.17 L101.96,297.50 L102.69,299.83 L103.43,302.16 L104.18,304.49 L104.94,306.82 L105.71,309.15 L106.49,311.47 L107.28,313.80 L108.09,316.12 L108.91,318.45 L109.74,320.77 L110.58,323.09 L111.43,325.41 L112.30,327.74 L113.17,330.06 L114.06,332.38 L114.97,334.70 L115.88,337.01 L116.82,339.32 L117.78,341.61 L118.78,343.87 L119.81,346.10 L120.89,348.29 L122.01,350.42 L123.20,352.50 L124.45,354.51 L125.76,356.44 L127.15,358.29 L128.62,360.05 L130.18,361.70 L131.83,363.25 L133.58,364.68 L135.44,365.99 L137.41,367.17 L139.50,368.20 L141.71,369.08 L144.04,369.80 L146.45,370.28 L148.87,370.47 L151.25,370.27 L153.53,369.63 L155.68,368.57 L157.70,367.18 L159.57,365.54 L161.29,363.71 L162.86,361.79 L164.27,359.79 L165.54,357.72 L166.68,355.60 L167.71,353.42 L168.63,351.19 L169.47,348.91 L170.23,346.61 L170.92,344.27 L171.57,341.91 L172.17,339.53 L172.75,337.15 L173.32,334.76 L173.89,332.37 L174.46,329.99 L175.05,327.62 L175.64,325.25 L176.24,322.89 L176.84,320.53 L177.46,318.19 L178.07,315.84 L178.69,313.50 L179.31,311.16 L179.94,308.83 L180.57,306.50 L181.20,304.17 L181.82,301.84 L182.45,299.52 L183.08,297.19 L183.70,294.87 L184.32,292.54 L184.94,290.21 L185.55,287.89 L186.16,285.56 L186.76,283.23 L187.35,280.89 L187.94,278.56 L188.51,276.22 L189.08,273.87 L189.64,271.52 L190.19,269.17 L190.72,266.81 L191.24,264.44 L191.76,262.07 L192.26,259.70 L192.76,257.32 L193.26,254.94 L193.75,252.56 L194.24,250.17 L194.74,247.79 L195.23,245.40 L195.73,243.02 L196.23,240.64 L196.74,238.26 L197.26,235.88 L197.79,233.51 L198.33,231.14 L198.88,228.77 L199.45,226.41 L200.04,224.06 L200.65,221.71 L201.27,219.37 L201.92,217.04 L202.59,214.72 L203.28,212.40 L204.01,210.10 L204.76,207.81 L205.54,205.53 L206.35,203.26 L207.19,201.00 L208.06,198.76 L208.95,196.52 L209.88,194.30 L210.83,192.09 L211.80,189.89 L212.81,187.70 L213.84,185.52 L214.89,183.35 L215.97,181.20 L217.08,179.06 L218.20,176.92 L219.36,174.80 L220.53,172.69 L221.73,170.59 L222.95,168.50 L224.20,166.43 L225.46,164.36 L226.75,162.30 L228.05,160.26 L229.38,158.23 L230.73,156.21 L232.09,154.20 L233.48,152.20 L234.89,150.21 L236.31,148.24 L237.75,146.28 L239.21,144.33 L240.69,142.40 L242.18,140.47 L243.69,138.57 L245.22,136.68 L246.76,134.80 L248.32,132.93 L249.90,131.09 L251.49,129.25 L253.09,127.44 L254.71,125.63 L256.35,123.85 L257.99,122.08 L259.65,120.33 L261.33,118.60 L263.02,116.88 L264.73,115.18 L266.45,113.50 L268.19,111.84 L269.94,110.20 L271.72,108.57 L273.51,106.97 L275.32,105.39 L277.15,103.83 L279.00,102.29 L280.87,100.77 L282.76,99.27 L284.68,97.80 L286.61,96.34 L288.56,94.91 L290.53,93.50 L292.52,92.12 L294.53,90.75 L296.55,89.41 L298.59,88.09 L300.65,86.79 L302.72,85.51 L304.80,84.25 L306.90,83.02 L309.01,81.81 L311.14,80.61 L313.27,79.45 L315.42,78.30 L317.57,77.17 L319.74,76.07 L321.91,74.99 L324.10,73.92 L326.29,72.88 L328.48,71.87 L330.69,70.87 L332.90,69.89 L335.12,68.94 L337.35,68.00 L339.58,67.08 L341.83,66.19 L344.07,65.31 L346.33,64.45 L348.59,63.62 L350.86,62.80 L353.13,61.99 L355.41,61.21 L357.69,60.45 L359.99,59.70 L362.28,58.97 L364.59,58.26 L366.89,57.56 L369.21,56.88 L371.53,56.22 L373.85,55.58 L376.18,54.95 L378.51,54.33 L380.85,53.74 L383.19,53.15 L385.54,52.59 L387.89,52.03 L390.25,51.49 L392.61,50.97 L394.97,50.46 L397.34,49.96 L399.71,49.48 L402.08,49.01 L404.46,48.55 L406.84,48.11 L409.23,47.68 L411.62,47.26 L414.01,46.85 L416.40,46.46 L418.80,46.08 L421.20,45.71 L423.60,45.34 L426.00,44.99 L428.41,44.65 L430.82,44.33 L433.23,44.01 L435.64,43.70 L438.05,43.40 L440.47,43.11 L442.89,42.83 L445.31,42.55 L447.73,42.29 L450.15,42.04 L452.57,41.79 L454.99,41.55 L457.41,41.32 L459.84,41.09 L462.26,40.88 L464.69,40.67 L467.11,40.46 L469.54,40.26 L471.96,40.07 L474.39,39.89 L476.81,39.71 L479.23,39.53 L481.66,39.36 L484.08,39.20 L486.50,39.04 L488.93,38.88 L491.35,38.73 L493.77,38.58 L496.18,38.44 L498.60,38.30 L501.02,38.16 L503.43,38.03 L505.84,37.90 L508.25,37.77 L510.66,37.64 L513.06,37.51 L515.47,37.39 L517.87,37.27 L520.27,37.15 L522.66,37.03 L525.06,36.91 L527.45,36.79 L529.83,36.67 L532.22,36.55 L534.60,36.43 L536.98,36.31 L539.35,36.19" fill="none" stroke="#fa4a7f" stroke-width="3.4" stroke-linecap="round" stroke-linejoin="round"/>
<path d="M172.18,14.47 L172.30,16.26 L172.42,18.05 L172.54,19.84 L172.66,21.63 L172.78,23.42 L172.90,25.21 L173.02,27.01 L173.15,28.80 L173.28,30.60 L173.41,32.40 L173.54,34.19 L173.67,35.99 L173.80,37.79 L173.94,39.59 L174.07,41.39 L174.21,43.19 L174.35,44.99 L174.50,46.80 L174.64,48.60 L174.79,50.40 L174.94,52.21 L175.09,54.01 L175.24,55.82 L175.40,57.62 L175.56,59.43 L175.72,61.24 L175.88,63.04 L176.04,64.85 L176.21,66.66 L176.38,68.46 L176.55,70.27 L176.73,72.08 L176.90,73.89 L177.08,75.70 L177.27,77.51 L177.45,79.32 L177.64,81.12 L177.83,82.93 L178.02,84.74 L178.22,86.55 L178.42,88.36 L178.62,90.17 L178.83,91.98 L179.04,93.79 L179.25,95.59 L179.47,97.40 L179.69,99.21 L179.91,101.02 L180.13,102.82 L180.36,104.63 L180.59,106.44 L180.83,108.24 L181.07,110.05 L181.31,111.86 L181.56,113.66 L181.81,115.46 L182.06,117.27 L182.32,119.07 L182.58,120.87 L182.85,122.68 L183.11,124.48 L183.39,126.28 L183.67,128.08 L183.95,129.88 L184.23,131.67 L184.52,133.47 L184.81,135.27 L185.11,137.06 L185.41,138.86 L185.72,140.65 L186.03,142.45 L186.35,144.24 L186.67,146.03 L186.99,147.82 L187.32,149.61 L187.65,151.40 L187.99,153.18 L188.33,154.97 L188.68,156.75 L189.03,158.53 L189.39,160.32 L189.75,162.10 L190.12,163.87 L190.49,165.65 L190.87,167.43 L191.25,169.20 L191.63,170.98 L192.03,172.75 L192.42,174.52 L192.83,176.29 L193.23,178.05 L193.65,179.82 L194.06,181.58 L194.49,183.35 L194.92,185.11 L195.35,186.87 L195.79,188.62 L196.24,190.38 L196.69,192.13 L197.15,193.88 L197.61,195.63 L198.08,197.38 L198.55,199.13 L199.03,200.87 L199.52,202.61 L200.01,204.35 L200.51,206.09 L201.02,207.83 L201.53,209.56 L202.04,211.29 L202.57,213.02 L203.10,214.75 L203.63,216.47 L204.17,218.20 L204.72,219.92 L205.28,221.63 L205.84,223.35 L206.41,225.06 L206.98,226.77 L207.56,228.48 L208.15,230.19 L208.74,231.89 L209.34,233.59 L209.95,235.29 L210.57,236.99 L211.19,238.68 L211.82,240.37 L212.45,242.06 L213.10,243.74 L213.74,245.42 L214.40,247.10 L215.07,248.78 L215.74,250.45 L216.42,252.12 L217.11,253.79 L217.82,255.45 L218.53,257.10 L219.26,258.76 L220.00,260.40 L220.75,262.04 L221.52,263.68 L222.31,265.31 L223.11,266.93 L223.93,268.55 L224.76,270.15 L225.62,271.75 L226.49,273.35 L227.39,274.93 L228.30,276.51 L229.24,278.08 L230.20,279.63 L231.19,281.18 L232.20,282.72 L233.23,284.25 L234.29,285.77 L235.38,287.28 L236.49,288.78 L237.64,290.26 L238.81,291.74 L240.01,293.20 L241.24,294.64 L242.50,296.06 L243.79,297.44 L245.11,298.79 L246.46,300.10 L247.84,301.36 L249.25,302.57 L250.68,303.72 L252.14,304.80 L253.63,305.81 L255.15,306.75 L256.70,307.60 L258.27,308.37 L259.87,309.04 L261.50,309.61 L263.15,310.08 L264.84,310.43 L266.54,310.67 L268.26,310.79 L269.98,310.78 L271.69,310.64 L273.39,310.35 L275.05,309.93 L276.69,309.35 L278.28,308.63 L279.83,307.78 L281.33,306.81 L282.79,305.73 L284.20,304.56 L285.57,303.32 L286.89,302.02 L288.16,300.67 L289.38,299.28 L290.55,297.87 L291.68,296.43 L292.76,294.96 L293.81,293.47 L294.81,291.96 L295.78,290.43 L296.71,288.88 L297.61,287.31 L298.49,285.72 L299.33,284.12 L300.15,282.51 L300.95,280.88 L301.73,279.24 L302.49,277.59 L303.24,275.93 L303.97,274.26 L304.69,272.59 L305.41,270.91 L306.11,269.23 L306.82,267.55 L307.52,265.86 L308.22,264.18 L308.92,262.49 L309.63,260.81 L310.34,259.13 L311.04,257.45 L311.75,255.77 L312.47,254.09 L313.18,252.42 L313.89,250.74 L314.61,249.07 L315.33,247.39 L316.05,245.72 L316.78,244.05 L317.50,242.38 L318.23,240.71 L318.97,239.05 L319.70,237.38 L320.44,235.72 L321.18,234.06 L321.92,232.40 L322.67,230.75 L323.42,229.09 L324.18,227.44 L324.93,225.79 L325.70,224.14 L326.46,222.50 L327.23,220.85 L328.00,219.21 L328.78,217.57 L329.56,215.94 L330.35,214.30 L331.14,212.67 L331.93,211.04 L332.73,209.42 L333.53,207.80 L334.34,206.18 L335.15,204.56 L335.97,202.95 L336.80,201.34 L337.62,199.73 L338.46,198.13 L339.30,196.52 L340.14,194.93 L340.99,193.33 L341.85,191.74 L342.71,190.16 L343.58,188.57 L344.45,186.99 L345.33,185.42 L346.22,183.84 L347.11,182.28 L348.01,180.71 L348.91,179.15 L349.83,177.59 L350.75,176.04 L351.67,174.49 L352.60,172.95 L353.54,171.41 L354.49,169.87 L355.44,168.34 L356.41,166.82 L357.37,165.29 L358.35,163.78 L359.33,162.26 L360.32,160.75 L361.32,159.25 L362.33,157.75 L363.34,156.25 L364.36,154.76 L365.39,153.27 L366.42,151.79 L367.46,150.31 L368.51,148.84 L369.57,147.37 L370.64,145.90 L371.71,144.44 L372.79,142.99 L373.88,141.53 L374.98,140.09 L376.08,138.65 L377.19,137.21 L378.31,135.77 L379.44,134.35 L380.58,132.92 L381.72,131.50 L382.88,130.09 L384.04,128.68 L385.21,127.28 L386.38,125.88 L387.57,124.49 L388.77,123.11 L389.97,121.74 L391.19,120.37 L392.42,119.02 L393.65,117.67 L394.90,116.34 L396.15,115.01 L397.42,113.70 L398.69,112.39 L399.98,111.11 L401.28,109.83 L402.59,108.56 L403.91,107.31 L405.25,106.08 L406.59,104.86 L407.95,103.65 L409.32,102.46 L410.70,101.28 L412.09,100.12 L413.50,98.98 L414.92,97.85 L416.34,96.74 L417.78,95.65 L419.24,94.57 L420.70,93.50 L422.17,92.45 L423.65,91.42 L425.15,90.40 L426.65,89.40 L428.17,88.41 L429.69,87.44 L431.23,86.49 L432.77,85.55 L434.32,84.63 L435.89,83.72 L437.46,82.83 L439.04,81.95 L440.63,81.09 L442.23,80.24 L443.83,79.41 L445.45,78.59 L447.07,77.80 L448.70,77.01 L450.34,76.24 L451.99,75.49 L453.64,74.75 L455.30,74.03 L456.97,73.32 L458.64,72.63 L460.33,71.95 L462.01,71.29 L463.71,70.64 L465.41,70.01 L467.12,69.40 L468.83,68.80 L470.55,68.21 L472.27,67.64 L474.00,67.09 L475.73,66.55 L477.47,66.02 L479.22,65.51 L480.97,65.02 L482.72,64.54 L484.48,64.07 L486.24,63.62 L488.01,63.19 L489.78,62.77 L491.55,62.37 L493.33,61.98 L495.11,61.60 L496.89,61.24 L498.68,60.90 L500.47,60.57 L502.26,60.26 L504.05,59.96 L505.85,59.67 L507.65,59.40 L509.45,59.15 L511.25,58.91 L513.06,58.68 L514.86,58.47 L516.67,58.27 L518.48,58.09 L520.29,57.93 L522.10,57.78 L523.91,57.64 L525.72,57.52 L527.53,57.41 L529.34,57.32 L531.15,57.24 L532.96,57.17 L534.77,57.13 L536.58,57.09 L538.39,57.07 L540.20,57.07" fill="none" stroke="#a07cc5" stroke-width="3.3" stroke-linecap="round" stroke-linejoin="round"/>
<path d="M172.28,97.90 L171.65,97.92 L171.03,97.95 L170.42,98.00 L169.84,98.07 L169.27,98.16 L168.72,98.27 L168.19,98.40 L167.68,98.55 L167.18,98.72 L166.70,98.91 L166.24,99.12 L165.79,99.36 L165.36,99.62 L164.95,99.91 L164.55,100.21 L164.17,100.55 L163.81,100.90 L163.47,101.28 L163.14,101.69 L162.84,102.12 L162.55,102.57 L162.28,103.05 L162.02,103.55 L161.79,104.07 L161.57,104.61 L161.37,105.18 L161.18,105.78 L161.01,106.40 L160.86,107.04 L160.72,107.70 L160.59,108.39 L160.48,109.10 L160.39,109.84 L160.31,110.61 L160.24,111.39 L160.19,112.21 L160.15,113.05 L160.12,113.92 L160.10,114.81 L160.10,115.72 L162.30,115.68 L162.26,114.78 L162.24,113.92 L162.23,113.08 L162.23,112.28 L162.24,111.50 L162.26,110.74 L162.30,110.02 L162.35,109.31 L162.42,108.64 L162.49,107.99 L162.58,107.37 L162.69,106.77 L162.81,106.20 L162.94,105.65 L163.08,105.13 L163.24,104.63 L163.42,104.15 L163.60,103.70 L163.81,103.27 L164.03,102.86 L164.26,102.47 L164.51,102.10 L164.77,101.75 L165.05,101.42 L165.35,101.11 L165.67,100.81 L166.00,100.54 L166.36,100.28 L166.74,100.04 L167.13,99.81 L167.55,99.60 L167.99,99.41 L168.45,99.24 L168.93,99.08 L169.44,98.94 L169.97,98.82 L170.52,98.71 L171.09,98.63 L171.69,98.55 L172.32,98.50Z" fill="#f7a800"/>
<path d="M161.7,124.2 L158.5,114.2 L161.7,117.2 L164.9,114.2Z" fill="#f7a800" opacity="1"/>
<path d="M174.98,130.70 L174.26,130.72 L173.55,130.76 L172.86,130.82 L172.20,130.90 L171.55,131.01 L170.92,131.13 L170.32,131.29 L169.73,131.47 L169.16,131.67 L168.61,131.90 L168.08,132.16 L167.57,132.44 L167.08,132.75 L166.61,133.09 L166.15,133.46 L165.72,133.86 L165.31,134.29 L164.92,134.74 L164.54,135.22 L164.19,135.74 L163.86,136.28 L163.55,136.85 L163.26,137.44 L162.99,138.07 L162.74,138.72 L162.50,139.40 L162.29,140.11 L162.09,140.85 L161.91,141.62 L161.75,142.41 L161.60,143.24 L161.48,144.09 L161.36,144.98 L161.27,145.89 L161.19,146.84 L161.12,147.81 L161.07,148.82 L161.03,149.86 L161.01,150.92 L161.00,152.02 L163.60,151.98 L163.56,150.90 L163.53,149.87 L163.52,148.86 L163.52,147.89 L163.53,146.95 L163.56,146.05 L163.61,145.17 L163.66,144.33 L163.74,143.52 L163.82,142.74 L163.93,141.99 L164.05,141.27 L164.18,140.58 L164.33,139.92 L164.50,139.29 L164.68,138.69 L164.88,138.12 L165.09,137.57 L165.32,137.05 L165.57,136.55 L165.83,136.08 L166.12,135.64 L166.42,135.22 L166.74,134.82 L167.08,134.44 L167.44,134.09 L167.82,133.76 L168.23,133.45 L168.66,133.15 L169.11,132.88 L169.58,132.63 L170.08,132.40 L170.61,132.19 L171.16,132.00 L171.74,131.83 L172.34,131.69 L172.97,131.56 L173.62,131.45 L174.30,131.37 L175.02,131.30Z" fill="#f7a800"/>
<path d="M162.8,163.0 L158.8,150.5 L162.8,153.5 L166.8,150.5Z" fill="#f7a800" opacity="1"/>
<path d="M182.48,166.70 L181.61,166.72 L180.77,166.76 L179.95,166.83 L179.15,166.93 L178.38,167.05 L177.63,167.20 L176.91,167.37 L176.21,167.57 L175.53,167.81 L174.88,168.07 L174.25,168.36 L173.64,168.68 L173.05,169.04 L172.49,169.43 L171.95,169.85 L171.43,170.30 L170.94,170.79 L170.47,171.30 L170.03,171.86 L169.61,172.44 L169.21,173.06 L168.84,173.71 L168.49,174.39 L168.16,175.11 L167.86,175.86 L167.58,176.64 L167.32,177.45 L167.08,178.30 L166.87,179.18 L166.67,180.09 L166.50,181.04 L166.34,182.02 L166.20,183.03 L166.09,184.08 L165.99,185.17 L165.91,186.29 L165.84,187.44 L165.79,188.63 L165.76,189.86 L165.75,191.12 L168.65,191.08 L168.61,189.85 L168.58,188.66 L168.57,187.50 L168.57,186.39 L168.60,185.31 L168.63,184.27 L168.69,183.27 L168.76,182.30 L168.86,181.37 L168.97,180.48 L169.09,179.62 L169.24,178.79 L169.40,178.00 L169.59,177.24 L169.79,176.52 L170.01,175.83 L170.25,175.16 L170.51,174.54 L170.79,173.94 L171.09,173.37 L171.42,172.83 L171.76,172.31 L172.13,171.83 L172.51,171.37 L172.93,170.93 L173.37,170.52 L173.83,170.14 L174.32,169.78 L174.84,169.44 L175.39,169.13 L175.96,168.84 L176.57,168.57 L177.20,168.33 L177.87,168.11 L178.56,167.92 L179.29,167.75 L180.05,167.60 L180.84,167.48 L181.66,167.38 L182.52,167.30Z" fill="#f7a800"/>
<path d="M167.7,203.6 L163.5,189.6 L167.7,192.6 L171.9,189.6Z" fill="#f7a800" opacity="1"/>
<path d="M193.18,201.50 L192.07,201.53 L190.99,201.58 L189.94,201.67 L188.92,201.79 L187.94,201.94 L186.98,202.12 L186.06,202.34 L185.17,202.60 L184.31,202.89 L183.48,203.21 L182.67,203.58 L181.90,203.98 L181.15,204.42 L180.44,204.90 L179.75,205.43 L179.09,205.99 L178.47,206.60 L177.87,207.24 L177.31,207.93 L176.77,208.66 L176.26,209.43 L175.79,210.24 L175.34,211.10 L174.93,211.99 L174.54,212.92 L174.18,213.90 L173.85,214.92 L173.54,215.97 L173.26,217.07 L173.01,218.21 L172.79,219.40 L172.58,220.63 L172.41,221.89 L172.25,223.21 L172.12,224.56 L172.02,225.97 L171.93,227.41 L171.87,228.90 L171.82,230.44 L171.80,232.01 L175.20,231.99 L175.15,230.44 L175.13,228.94 L175.12,227.50 L175.13,226.10 L175.17,224.75 L175.22,223.45 L175.30,222.19 L175.40,220.97 L175.53,219.80 L175.67,218.68 L175.84,217.60 L176.03,216.56 L176.25,215.57 L176.49,214.62 L176.75,213.70 L177.04,212.83 L177.36,212.00 L177.70,211.21 L178.06,210.46 L178.46,209.74 L178.87,209.06 L179.32,208.41 L179.80,207.80 L180.30,207.21 L180.84,206.67 L181.41,206.15 L182.01,205.66 L182.65,205.21 L183.32,204.78 L184.03,204.39 L184.77,204.02 L185.56,203.69 L186.38,203.39 L187.23,203.11 L188.13,202.87 L189.07,202.66 L190.05,202.47 L191.06,202.32 L192.12,202.19 L193.22,202.10Z" fill="#f7a800"/>
<path d="M174.0,249.0 L168.4,230.5 L174.0,233.5 L179.6,230.5Z" fill="#f7a800" opacity="1"/>
<circle cx="284.9" cy="98.9" r="4.4" fill="#e2245e"/>
<circle cx="203.4" cy="213.6" r="6.6" fill="#fff"/>
<circle cx="203.4" cy="213.6" r="5.6" fill="#000"/>
<line x1="173.4" y1="334" x2="173.4" y2="296" stroke="#fa4a7f" stroke-width="2"/>
<path d="M173.4,289.8 L177.0,299.3 L173.4,297.1 L169.8,299.3Z" fill="#fa4a7f" opacity="1"/>
<line x1="172.5" y1="333" x2="202" y2="333" stroke="#fa4a7f" stroke-width="2"/>
<path d="M209.0,333.0 L199.5,336.6 L201.7,333.0 L199.5,329.4Z" fill="#fa4a7f" opacity="1"/>
<g fill="none" stroke="#fa4a7f" stroke-width="1.3" stroke-linecap="round">
<path d="M104.3,21.4 Q113.4,16.1 122.4,21 Q113.4,32.4 104.3,21.4Z"/>
<circle cx="114" cy="23" r="3.4"/>
<path d="M102.8,20.2 L104.3,21.2 M106.1,17.6 L107.1,19.4 M110.4,16.4 L110.7,18.4 M115.3,16.4 L115.3,18.4 M119.6,17.4 L119.1,19.2 M123.9,19.4 L122.4,20.7"/>
</g>
<g fill="none" stroke="#5d2a8e" stroke-width="1.35" stroke-linecap="round">
<path d="M212.3,19.4 Q221,27.9 229.7,19.6"/>
<path d="M210.1,22.4 L212.5,21.8 M213.4,25.1 L215,23.2 M217.5,26.5 L218.3,24.3 M222.6,26.5 L222.6,24.3 M227,25.4 L226.2,23.7 M231.4,23.5 L229.5,22.4"/>
</g>
<path d="M147.20,384.10 L147.20,379.10 M147.20,384.10 L151.96,382.55 M147.20,384.10 L150.14,388.15 M147.20,384.10 L144.26,388.15 M147.20,384.10 L142.44,382.55 " stroke="#fa4a7f" stroke-width="2.6" stroke-linecap="round" fill="none"/>
<path d="M268.70,322.90 L268.70,317.90 M268.70,322.90 L273.46,321.35 M268.70,322.90 L271.64,326.95 M268.70,322.90 L265.76,326.95 M268.70,322.90 L263.94,321.35 " stroke="#a07cc5" stroke-width="2.6" stroke-linecap="round" fill="none"/>
<line x1="440" y1="183.7" x2="440" y2="200" stroke="#222" stroke-width="1"/>
<path d="M440.0,205.5 L437.7,198.5 L440.0,199.5 L442.3,198.5Z" fill="#222" opacity="1"/>
<g class="s" font-style="italic" font-weight="bold" fill="#222">
<text x="62.8" y="27.6" font-size="24.5">U<tspan font-size="18.5" dy="3.7">W</tspan></text>
<text x="177" y="27.6" font-size="24.5">U<tspan font-size="18.5" dy="3.7">S</tspan></text>
</g>
<text class="s" x="121" y="217" font-size="21.5" font-style="italic" font-weight="bold" fill="#5a2a8c">U<tspan font-weight="normal" font-size="22" dy="3.4" stroke="#5a2a8c" stroke-width="0.35">x</tspan><tspan font-weight="normal" font-size="14" dy="2" stroke="#5a2a8c" stroke-width="0.3">c</tspan></text>
<text class="s" x="150.5" y="91" font-size="18">Δ<tspan font-size="22.5">ε</tspan></text>
<text class="s" x="257.6" y="91.8" font-size="28" font-style="italic" fill="#5a2a8c" stroke="#5a2a8c" stroke-width="0.45">x<tspan font-size="16.5" dx="1.2" dy="2">O</tspan></text>
<text class="s" x="428" y="106.5" font-size="29" font-style="italic" fill="#222">J<tspan font-size="17" dy="0">in</tspan></text>
<text class="s" x="433.2" y="176.3" font-size="25" fill="#222">ε</text>
<text class="s" x="154.5" y="318.6" font-size="30" font-style="italic" fill="#fa4a7f" stroke="#fa4a7f" stroke-width="0.5">ε</text>
<text class="s" x="181" y="351.5" font-size="19" font-style="italic" font-weight="bold" fill="#fa4a7f">F</text>
<text class="a" x="28" y="44" font-size="18" fill="#111">0</text>
<text class="a" x="11" y="329.7" font-size="18" fill="#111">−1.0</text>
<g class="s" font-style="italic" fill="#5a2a8c" stroke="#5a2a8c" stroke-width="0.4">
<text x="193" y="421.2" font-size="26.5">x<tspan font-size="18" dx="0.3" dy="2.6">c</tspan></text>
<text x="273.8" y="421.2" font-size="26.5">x<tspan font-size="17" dx="1.9" dy="2.4">O</tspan></text>
<text x="401.5" y="421.2" font-size="26.5">x<tspan font-size="16.5" dx="1.2" dy="1" letter-spacing="0.4">in</tspan></text>
</g>
<text class="a" x="118.5" y="449.2" font-size="17" fill="#222">Regulating parameter of state stability, <tspan class="s" font-style="italic" font-size="22">x</tspan></text>
<text class="a" transform="translate(20.6,279) rotate(-90)" font-size="17.2" fill="#222">Energy of state instability, <tspan class="s" font-size="27">ε</tspan></text>
<rect x="188.5" y="480" width="30.5" height="39.5" fill="url(#band)"/>
<rect x="145" y="497.7" width="45" height="1.6" fill="url(#lg1)"/>
<path d="M135.4,498.5 L149,494.9 L147.5,498.5 L149,502.1Z" fill="#111"/>
<rect x="218" y="497.6" width="45" height="1.6" fill="url(#lg2)"/>
<path d="M272.7,498.4 L259,494.8 L260.5,498.4 L259,502Z" fill="#111"/>
<g class="a" font-size="17.6" fill="#111" letter-spacing="0.45">
<text x="106.5" y="491.5" text-anchor="end">favors</text>
<text x="107.5" y="512.6" text-anchor="end">Wake</text>
<text x="327.5" y="490" text-anchor="middle">favors</text>
<text x="330.5" y="511" text-anchor="middle">NREMS</text>
</g>
<rect x="154" y="528.1" width="108" height="22" fill="#e4d9ee"/>
<g class="a" font-size="17.6" fill="#111" text-anchor="middle" letter-spacing="0.45">
<text x="208.5" y="545.8">equilibrium</text>
<text x="208.5" y="567.3">favors REMS</text>
</g>
</svg>
</body></html>
